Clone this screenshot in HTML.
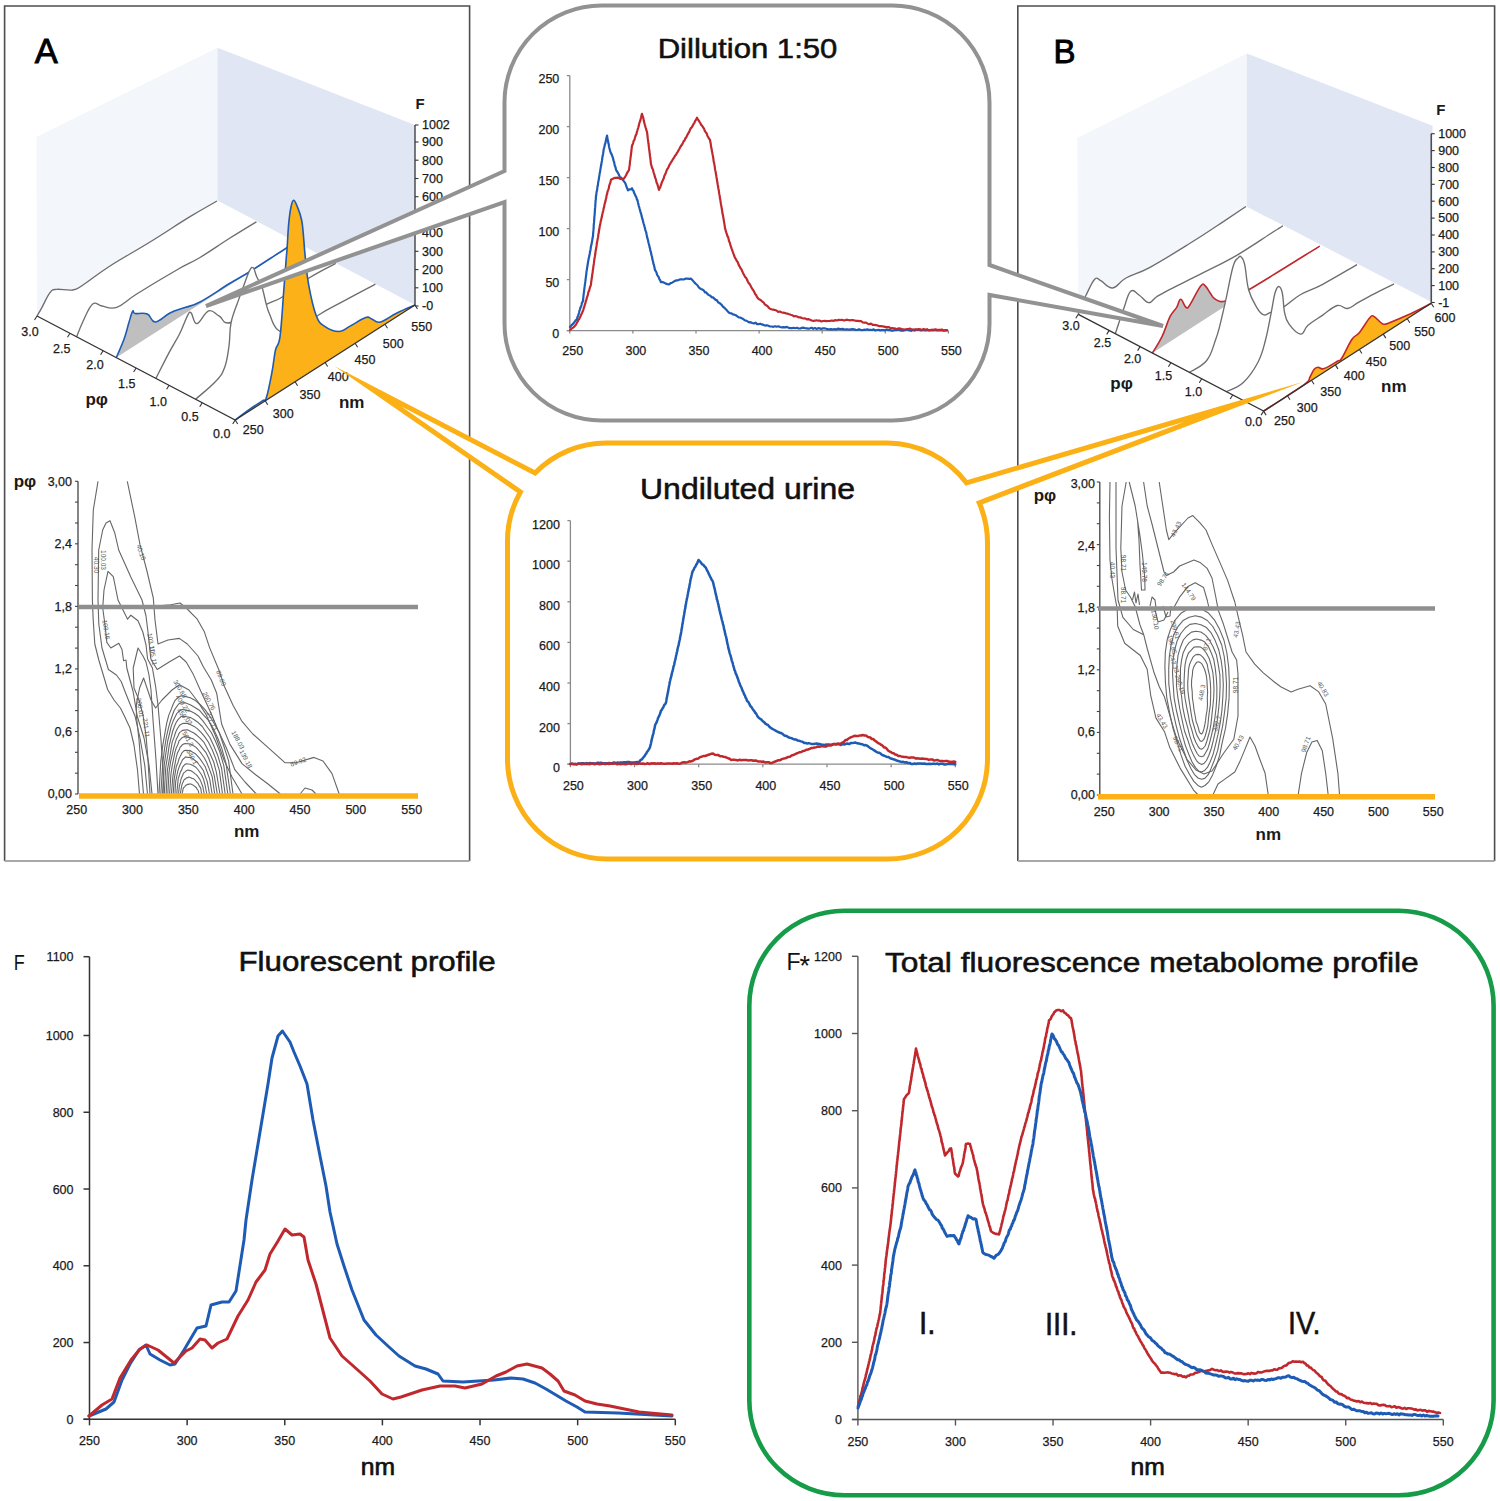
<!DOCTYPE html>
<html><head><meta charset="utf-8"><title>Figure</title>
<style>html,body{margin:0;padding:0;background:#fff;} svg{display:block;} text{font-family:"Liberation Sans", sans-serif;}</style>
</head><body>
<svg width="1500" height="1501" viewBox="0 0 1500 1501">
<rect x="0" y="0" width="1500" height="1501" fill="#fff"/>
<path d="M4.6,861 L4.6,6 L469.6,6 L469.6,861" fill="none" stroke="#4d4d4d" stroke-width="1.6"/>
<line x1="4.6" y1="861" x2="469.6" y2="861" stroke="#a8a8a8" stroke-width="1.8"/>
<path d="M1017.8,861 L1017.8,6 L1494.6,6 L1494.6,861" fill="none" stroke="#4d4d4d" stroke-width="1.6"/>
<line x1="1017.8" y1="861" x2="1494.6" y2="861" stroke="#a8a8a8" stroke-width="1.8"/>
<text x="34.8" y="63.3" font-size="34.5" text-anchor="start" font-weight="normal" fill="#000" stroke="#000" stroke-width="0.9">A</text>
<text x="1053.5" y="63.3" font-size="33" text-anchor="start" font-weight="normal" fill="#000" stroke="#000" stroke-width="0.9">B</text>
<polygon points="36.4,137.0 217.5,47.8 217.5,200.5 37.0,316.0" fill="#f3f6fb"/>
<polygon points="217.5,47.8 415.0,125.0 415.0,305.0 217.5,200.5" fill="#e0e6f3"/>
<path d="M37.0,316.0 C38.0,314.3 39.4,312.0 42.0,307.3 C44.6,302.6 47.1,296.3 50.0,292.7 C52.9,289.1 52.2,289.8 56.7,289.3 C61.2,288.8 67.4,290.9 72.7,290.0 C78.0,289.1 75.8,289.5 83.3,284.7 C90.8,279.9 96.7,274.5 110.0,266.0 C123.3,257.5 134.0,251.9 150.0,242.0 C166.0,232.1 176.6,224.9 190.0,216.7 C203.4,208.5 211.6,204.1 217.0,201.0 L216.8,201.0 L37.0,316.0 Z" fill="#fff" stroke="none"/>
<path d="M37.0,316.0 C38.0,314.3 39.4,312.0 42.0,307.3 C44.6,302.6 47.1,296.3 50.0,292.7 C52.9,289.1 52.2,289.8 56.7,289.3 C61.2,288.8 67.4,290.9 72.7,290.0 C78.0,289.1 75.8,289.5 83.3,284.7 C90.8,279.9 96.7,274.5 110.0,266.0 C123.3,257.5 134.0,251.9 150.0,242.0 C166.0,232.1 176.6,224.9 190.0,216.7 C203.4,208.5 211.6,204.1 217.0,201.0" fill="none" stroke="#6e6e6e" stroke-width="1.35" stroke-linejoin="round"/>
<path d="M76.6,336.8 C77.9,333.6 80.1,327.3 83.3,320.7 C86.5,314.1 89.0,306.9 92.7,304.0 C96.4,301.1 97.2,305.3 102.0,306.0 C106.8,306.7 109.8,309.7 116.7,307.3 C123.6,304.9 124.7,301.5 136.7,294.0 C148.7,286.5 164.0,277.3 176.7,270.0 C189.4,262.7 189.3,263.9 200.0,257.5 C210.7,251.1 218.7,245.1 230.0,238.0 C241.3,230.9 251.1,225.0 256.4,221.8 L256.4,221.8 L76.6,336.8 Z" fill="#fff" stroke="none"/>
<path d="M76.6,336.8 C77.9,333.6 80.1,327.3 83.3,320.7 C86.5,314.1 89.0,306.9 92.7,304.0 C96.4,301.1 97.2,305.3 102.0,306.0 C106.8,306.7 109.8,309.7 116.7,307.3 C123.6,304.9 124.7,301.5 136.7,294.0 C148.7,286.5 164.0,277.3 176.7,270.0 C189.4,262.7 189.3,263.9 200.0,257.5 C210.7,251.1 218.7,245.1 230.0,238.0 C241.3,230.9 251.1,225.0 256.4,221.8" fill="none" stroke="#6e6e6e" stroke-width="1.35" stroke-linejoin="round"/>
<path d="M116.3,357.6 C117.8,353.9 121.5,346.2 124.0,339.3 C126.5,332.4 127.0,328.9 128.7,323.3 C130.4,317.7 131.4,313.3 132.7,311.3 C134.0,309.3 132.1,313.0 135.0,313.5 C137.9,314.0 143.2,312.3 147.3,314.0 C151.4,315.7 150.8,322.2 155.3,322.0 C159.8,321.8 164.1,315.9 170.0,313.0 C175.9,310.1 179.0,309.7 185.0,307.5 C191.0,305.3 191.0,306.8 200.0,302.0 C209.0,297.2 219.7,289.6 230.0,283.3 C240.3,277.0 240.0,277.8 251.3,270.7 C262.6,263.6 277.5,253.6 286.5,248.0 C295.5,242.4 294.2,243.7 296.1,242.6 L296.1,242.6 L116.3,357.6 Z" fill="#bfbfbf" stroke="none"/>
<path d="M116.3,357.6 C117.8,353.9 121.5,346.2 124.0,339.3 C126.5,332.4 127.0,328.9 128.7,323.3 C130.4,317.7 131.4,313.3 132.7,311.3 C134.0,309.3 132.1,313.0 135.0,313.5 C137.9,314.0 143.2,312.3 147.3,314.0 C151.4,315.7 150.8,322.2 155.3,322.0 C159.8,321.8 164.1,315.9 170.0,313.0 C175.9,310.1 179.0,309.7 185.0,307.5 C191.0,305.3 191.0,306.8 200.0,302.0 C209.0,297.2 219.7,289.6 230.0,283.3 C240.3,277.0 240.0,277.8 251.3,270.7 C262.6,263.6 277.5,253.6 286.5,248.0 C295.5,242.4 294.2,243.7 296.1,242.6" fill="none" stroke="#1d5bb4" stroke-width="1.6" stroke-linejoin="round"/>
<path d="M155.9,378.4 C158.6,373.2 164.4,361.4 169.2,352.4 C174.0,343.4 176.3,340.5 179.9,333.2 C183.5,325.9 185.1,320.2 187.3,316.1 C189.5,312.0 189.2,311.4 191.1,312.9 C193.0,314.4 193.4,324.0 196.9,323.6 C200.4,323.2 204.2,312.3 208.7,310.8 C213.2,309.3 214.8,313.8 219.3,316.1 C223.8,318.4 221.7,324.8 231.1,322.5 C240.5,320.2 256.1,309.5 266.3,304.4 C276.5,299.3 273.8,302.3 282.3,297.0 C290.8,291.7 298.3,284.7 309.0,278.0 C319.7,271.3 330.4,266.3 335.7,263.4 L335.7,263.4 L155.9,378.4 Z" fill="#fff" stroke="none"/>
<path d="M155.9,378.4 C158.6,373.2 164.4,361.4 169.2,352.4 C174.0,343.4 176.3,340.5 179.9,333.2 C183.5,325.9 185.1,320.2 187.3,316.1 C189.5,312.0 189.2,311.4 191.1,312.9 C193.0,314.4 193.4,324.0 196.9,323.6 C200.4,323.2 204.2,312.3 208.7,310.8 C213.2,309.3 214.8,313.8 219.3,316.1 C223.8,318.4 221.7,324.8 231.1,322.5 C240.5,320.2 256.1,309.5 266.3,304.4 C276.5,299.3 273.8,302.3 282.3,297.0 C290.8,291.7 298.3,284.7 309.0,278.0 C319.7,271.3 330.4,266.3 335.7,263.4" fill="none" stroke="#6e6e6e" stroke-width="1.35" stroke-linejoin="round"/>
<path d="M195.6,399.2 C199.7,395.6 210.2,387.4 216.0,381.0 C221.8,374.6 222.1,374.3 224.7,367.3 C227.3,360.3 227.7,355.0 229.0,346.0 C230.3,337.0 229.2,331.7 231.1,322.5 C233.0,313.3 235.9,307.6 238.5,300.1 C241.1,292.6 241.7,291.2 243.9,285.2 C246.1,279.2 247.8,273.7 249.7,270.3 C251.6,266.9 252.1,266.8 253.5,268.1 C254.9,269.4 255.0,272.9 256.7,276.7 C258.4,280.5 260.1,281.8 262.0,287.3 C263.9,292.8 264.8,299.1 266.3,304.4 C267.8,309.7 267.2,308.9 269.5,314.0 C271.8,319.1 272.9,326.2 278.0,330.0 C283.1,333.8 286.8,336.1 295.0,333.0 C303.2,329.9 309.0,321.2 319.0,314.7 C329.0,308.2 333.7,306.4 345.0,300.3 C356.3,294.2 369.3,287.4 375.4,284.2 L375.4,284.2 L195.6,399.2 Z" fill="#fff" stroke="none"/>
<path d="M195.6,399.2 C199.7,395.6 210.2,387.4 216.0,381.0 C221.8,374.6 222.1,374.3 224.7,367.3 C227.3,360.3 227.7,355.0 229.0,346.0 C230.3,337.0 229.2,331.7 231.1,322.5 C233.0,313.3 235.9,307.6 238.5,300.1 C241.1,292.6 241.7,291.2 243.9,285.2 C246.1,279.2 247.8,273.7 249.7,270.3 C251.6,266.9 252.1,266.8 253.5,268.1 C254.9,269.4 255.0,272.9 256.7,276.7 C258.4,280.5 260.1,281.8 262.0,287.3 C263.9,292.8 264.8,299.1 266.3,304.4 C267.8,309.7 267.2,308.9 269.5,314.0 C271.8,319.1 272.9,326.2 278.0,330.0 C283.1,333.8 286.8,336.1 295.0,333.0 C303.2,329.9 309.0,321.2 319.0,314.7 C329.0,308.2 333.7,306.4 345.0,300.3 C356.3,294.2 369.3,287.4 375.4,284.2" fill="none" stroke="#6e6e6e" stroke-width="1.35" stroke-linejoin="round"/>
<path d="M235.2,420.0 C237.8,418.1 242.6,414.2 248.0,410.4 C253.4,406.6 258.7,403.4 262.4,400.8 C266.1,398.2 264.5,403.4 266.4,397.6 C268.3,391.8 270.2,381.5 272.0,372.0 C273.8,362.5 273.9,357.1 275.5,350.0 C277.1,342.9 278.4,348.2 280.0,336.7 C281.6,325.2 282.4,308.0 283.6,292.7 C284.8,277.4 285.4,269.2 286.1,260.0 C286.8,250.8 286.7,254.2 287.2,246.7 C287.7,239.2 288.0,230.6 288.8,222.7 C289.6,214.8 290.0,211.5 291.0,207.0 C292.0,202.5 292.3,200.4 293.6,200.3 C294.9,200.2 295.7,202.8 297.3,206.7 C298.9,210.6 300.3,213.6 301.6,220.0 C302.9,226.4 303.0,231.2 303.7,238.7 C304.4,246.2 304.3,248.3 305.3,257.3 C306.3,266.3 306.4,272.4 308.5,283.9 C310.6,295.4 312.7,306.2 315.9,314.7 C319.1,323.2 320.0,323.0 324.7,326.4 C329.4,329.8 334.3,331.5 339.3,331.5 C344.3,331.5 344.3,329.2 349.6,326.4 C354.9,323.6 361.3,319.1 365.7,317.6 C370.1,316.1 368.7,318.1 371.6,319.0 C374.5,319.9 375.4,323.2 380.4,322.0 C385.4,320.8 389.6,316.6 396.5,313.2 C403.4,309.8 411.3,306.6 415.0,305.0 L415.0,305.0 L235.2,420.0 Z" fill="#fbb117" stroke="none"/>
<path d="M235.2,420.0 C237.8,418.1 242.6,414.2 248.0,410.4 C253.4,406.6 258.7,403.4 262.4,400.8 C266.1,398.2 264.5,403.4 266.4,397.6 C268.3,391.8 270.2,381.5 272.0,372.0 C273.8,362.5 273.9,357.1 275.5,350.0 C277.1,342.9 278.4,348.2 280.0,336.7 C281.6,325.2 282.4,308.0 283.6,292.7 C284.8,277.4 285.4,269.2 286.1,260.0 C286.8,250.8 286.7,254.2 287.2,246.7 C287.7,239.2 288.0,230.6 288.8,222.7 C289.6,214.8 290.0,211.5 291.0,207.0 C292.0,202.5 292.3,200.4 293.6,200.3 C294.9,200.2 295.7,202.8 297.3,206.7 C298.9,210.6 300.3,213.6 301.6,220.0 C302.9,226.4 303.0,231.2 303.7,238.7 C304.4,246.2 304.3,248.3 305.3,257.3 C306.3,266.3 306.4,272.4 308.5,283.9 C310.6,295.4 312.7,306.2 315.9,314.7 C319.1,323.2 320.0,323.0 324.7,326.4 C329.4,329.8 334.3,331.5 339.3,331.5 C344.3,331.5 344.3,329.2 349.6,326.4 C354.9,323.6 361.3,319.1 365.7,317.6 C370.1,316.1 368.7,318.1 371.6,319.0 C374.5,319.9 375.4,323.2 380.4,322.0 C385.4,320.8 389.6,316.6 396.5,313.2 C403.4,309.8 411.3,306.6 415.0,305.0" fill="none" stroke="#1d5bb4" stroke-width="1.6" stroke-linejoin="round"/>
<polyline points="37.0,316.0 235.2,420.0 415.0,305.0" fill="none" stroke="#333" stroke-width="1.3"/>
<line x1="235.2" y1="420.0" x2="232.7" y2="424.0" stroke="#333" stroke-width="1.1"/>
<line x1="202.2" y1="402.7" x2="199.7" y2="406.7" stroke="#333" stroke-width="1.1"/>
<line x1="169.1" y1="385.3" x2="166.6" y2="389.3" stroke="#333" stroke-width="1.1"/>
<line x1="136.1" y1="368.0" x2="133.6" y2="372.0" stroke="#333" stroke-width="1.1"/>
<line x1="103.1" y1="350.7" x2="100.6" y2="354.7" stroke="#333" stroke-width="1.1"/>
<line x1="70.0" y1="333.3" x2="67.5" y2="337.3" stroke="#333" stroke-width="1.1"/>
<line x1="37.0" y1="316.0" x2="34.5" y2="320.0" stroke="#333" stroke-width="1.1"/>
<line x1="235.2" y1="420.0" x2="237.7" y2="424.0" stroke="#333" stroke-width="1.1"/>
<line x1="265.2" y1="400.8" x2="267.7" y2="404.8" stroke="#333" stroke-width="1.1"/>
<line x1="295.1" y1="381.7" x2="297.6" y2="385.7" stroke="#333" stroke-width="1.1"/>
<line x1="325.1" y1="362.5" x2="327.6" y2="366.5" stroke="#333" stroke-width="1.1"/>
<line x1="355.1" y1="343.3" x2="357.6" y2="347.3" stroke="#333" stroke-width="1.1"/>
<line x1="385.0" y1="324.2" x2="387.5" y2="328.2" stroke="#333" stroke-width="1.1"/>
<line x1="415.0" y1="305.0" x2="417.5" y2="309.0" stroke="#333" stroke-width="1.1"/>
<line x1="415.0" y1="125" x2="415.0" y2="305" stroke="#333" stroke-width="1.3"/>
<line x1="415.0" y1="306.0" x2="418.5" y2="306.0" stroke="#333" stroke-width="1.1"/>
<text x="422.0" y="310.3" font-size="12.5" text-anchor="start" font-weight="normal" fill="#1a1a1a" stroke="#1a1a1a" stroke-width="0.25">-0</text>
<line x1="415.0" y1="287.8" x2="418.5" y2="287.8" stroke="#333" stroke-width="1.1"/>
<text x="422.0" y="292.08" font-size="12.5" text-anchor="start" font-weight="normal" fill="#1a1a1a" stroke="#1a1a1a" stroke-width="0.25">100</text>
<line x1="415.0" y1="269.6" x2="418.5" y2="269.6" stroke="#333" stroke-width="1.1"/>
<text x="422.0" y="273.86" font-size="12.5" text-anchor="start" font-weight="normal" fill="#1a1a1a" stroke="#1a1a1a" stroke-width="0.25">200</text>
<line x1="415.0" y1="251.3" x2="418.5" y2="251.3" stroke="#333" stroke-width="1.1"/>
<text x="422.0" y="255.64000000000001" font-size="12.5" text-anchor="start" font-weight="normal" fill="#1a1a1a" stroke="#1a1a1a" stroke-width="0.25">300</text>
<line x1="415.0" y1="233.1" x2="418.5" y2="233.1" stroke="#333" stroke-width="1.1"/>
<text x="422.0" y="237.42000000000002" font-size="12.5" text-anchor="start" font-weight="normal" fill="#1a1a1a" stroke="#1a1a1a" stroke-width="0.25">400</text>
<line x1="415.0" y1="214.9" x2="418.5" y2="214.9" stroke="#333" stroke-width="1.1"/>
<text x="422.0" y="219.20000000000002" font-size="12.5" text-anchor="start" font-weight="normal" fill="#1a1a1a" stroke="#1a1a1a" stroke-width="0.25">500</text>
<line x1="415.0" y1="196.7" x2="418.5" y2="196.7" stroke="#333" stroke-width="1.1"/>
<text x="422.0" y="200.98000000000002" font-size="12.5" text-anchor="start" font-weight="normal" fill="#1a1a1a" stroke="#1a1a1a" stroke-width="0.25">600</text>
<line x1="415.0" y1="178.5" x2="418.5" y2="178.5" stroke="#333" stroke-width="1.1"/>
<text x="422.0" y="182.76" font-size="12.5" text-anchor="start" font-weight="normal" fill="#1a1a1a" stroke="#1a1a1a" stroke-width="0.25">700</text>
<line x1="415.0" y1="160.2" x2="418.5" y2="160.2" stroke="#333" stroke-width="1.1"/>
<text x="422.0" y="164.54000000000002" font-size="12.5" text-anchor="start" font-weight="normal" fill="#1a1a1a" stroke="#1a1a1a" stroke-width="0.25">800</text>
<line x1="415.0" y1="142.0" x2="418.5" y2="142.0" stroke="#333" stroke-width="1.1"/>
<text x="422.0" y="146.32000000000002" font-size="12.5" text-anchor="start" font-weight="normal" fill="#1a1a1a" stroke="#1a1a1a" stroke-width="0.25">900</text>
<line x1="415.0" y1="125.0" x2="418.5" y2="125.0" stroke="#333" stroke-width="1.1"/>
<text x="422.0" y="129.3" font-size="12.5" text-anchor="start" font-weight="normal" fill="#1a1a1a" stroke="#1a1a1a" stroke-width="0.25">1002</text>
<text x="253.3" y="434.3" font-size="12.5" text-anchor="middle" font-weight="normal" fill="#1a1a1a" stroke="#1a1a1a" stroke-width="0.25">250</text>
<text x="283.3" y="417.6" font-size="12.5" text-anchor="middle" font-weight="normal" fill="#1a1a1a" stroke="#1a1a1a" stroke-width="0.25">300</text>
<text x="310" y="399.3" font-size="12.5" text-anchor="middle" font-weight="normal" fill="#1a1a1a" stroke="#1a1a1a" stroke-width="0.25">350</text>
<text x="338.3" y="381.0" font-size="12.5" text-anchor="middle" font-weight="normal" fill="#1a1a1a" stroke="#1a1a1a" stroke-width="0.25">400</text>
<text x="365" y="364.3" font-size="12.5" text-anchor="middle" font-weight="normal" fill="#1a1a1a" stroke="#1a1a1a" stroke-width="0.25">450</text>
<text x="393.3" y="347.6" font-size="12.5" text-anchor="middle" font-weight="normal" fill="#1a1a1a" stroke="#1a1a1a" stroke-width="0.25">500</text>
<text x="421.7" y="331.0" font-size="12.5" text-anchor="middle" font-weight="normal" fill="#1a1a1a" stroke="#1a1a1a" stroke-width="0.25">550</text>
<text x="30" y="336.0" font-size="12.5" text-anchor="middle" font-weight="normal" fill="#1a1a1a" stroke="#1a1a1a" stroke-width="0.25">3.0</text>
<text x="61.7" y="352.6" font-size="12.5" text-anchor="middle" font-weight="normal" fill="#1a1a1a" stroke="#1a1a1a" stroke-width="0.25">2.5</text>
<text x="95" y="369.3" font-size="12.5" text-anchor="middle" font-weight="normal" fill="#1a1a1a" stroke="#1a1a1a" stroke-width="0.25">2.0</text>
<text x="126.7" y="387.6" font-size="12.5" text-anchor="middle" font-weight="normal" fill="#1a1a1a" stroke="#1a1a1a" stroke-width="0.25">1.5</text>
<text x="158.3" y="406.0" font-size="12.5" text-anchor="middle" font-weight="normal" fill="#1a1a1a" stroke="#1a1a1a" stroke-width="0.25">1.0</text>
<text x="190" y="421.0" font-size="12.5" text-anchor="middle" font-weight="normal" fill="#1a1a1a" stroke="#1a1a1a" stroke-width="0.25">0.5</text>
<text x="221.7" y="437.6" font-size="12.5" text-anchor="middle" font-weight="normal" fill="#1a1a1a" stroke="#1a1a1a" stroke-width="0.25">0.0</text>
<text x="96.7" y="405" font-size="17" text-anchor="middle" font-weight="bold" fill="#1a1a1a" >pφ</text>
<text x="351.7" y="408" font-size="17" text-anchor="middle" font-weight="bold" fill="#1a1a1a" >nm</text>
<text x="420" y="109" font-size="15" text-anchor="middle" font-weight="bold" fill="#1a1a1a" >F</text>
<polygon points="1077.3,138.0 1246.9,53.5 1246.9,206.7 1078.3,314.3" fill="#f3f6fb"/>
<polygon points="1246.9,53.5 1432.5,125.8 1432.5,302.5 1246.9,206.7" fill="#e0e6f3"/>
<path d="M1078.3,314.3 C1079.0,312.2 1080.5,307.8 1082.0,304.0 C1083.5,300.2 1083.5,300.2 1086.0,295.3 C1088.5,290.4 1091.8,282.2 1094.7,279.3 C1097.6,276.4 1097.1,279.0 1100.7,280.7 C1104.3,282.4 1107.6,288.5 1112.7,288.0 C1117.8,287.5 1118.5,282.1 1126.0,278.0 C1133.5,273.9 1137.2,274.2 1150.0,267.3 C1162.8,260.4 1176.7,251.6 1190.0,243.3 C1203.3,235.0 1205.5,233.4 1216.7,226.0 C1227.9,218.6 1240.1,210.4 1245.9,206.5 L1245.9,206.5 L1078.3,314.3 Z" fill="#fff" stroke="none"/>
<path d="M1078.3,314.3 C1079.0,312.2 1080.5,307.8 1082.0,304.0 C1083.5,300.2 1083.5,300.2 1086.0,295.3 C1088.5,290.4 1091.8,282.2 1094.7,279.3 C1097.6,276.4 1097.1,279.0 1100.7,280.7 C1104.3,282.4 1107.6,288.5 1112.7,288.0 C1117.8,287.5 1118.5,282.1 1126.0,278.0 C1133.5,273.9 1137.2,274.2 1150.0,267.3 C1162.8,260.4 1176.7,251.6 1190.0,243.3 C1203.3,235.0 1205.5,233.4 1216.7,226.0 C1227.9,218.6 1240.1,210.4 1245.9,206.5" fill="none" stroke="#6e6e6e" stroke-width="1.35" stroke-linejoin="round"/>
<path d="M1115.3,333.7 C1116.9,329.0 1120.2,318.5 1123.3,310.0 C1126.4,301.5 1127.5,294.2 1130.7,291.3 C1133.9,288.4 1135.7,293.0 1139.3,295.3 C1142.9,297.6 1145.2,302.4 1148.7,302.7 C1152.2,303.0 1152.4,299.4 1156.7,296.7 C1161.0,294.0 1160.7,294.1 1170.0,289.3 C1179.3,284.5 1190.0,279.5 1203.3,272.7 C1216.6,265.9 1223.4,263.0 1236.7,255.3 C1250.0,247.6 1260.8,239.9 1270.0,234.0 C1279.2,228.1 1280.3,227.5 1282.9,225.9 L1283.0,225.9 L1115.4,333.7 Z" fill="#fff" stroke="none"/>
<path d="M1115.3,333.7 C1116.9,329.0 1120.2,318.5 1123.3,310.0 C1126.4,301.5 1127.5,294.2 1130.7,291.3 C1133.9,288.4 1135.7,293.0 1139.3,295.3 C1142.9,297.6 1145.2,302.4 1148.7,302.7 C1152.2,303.0 1152.4,299.4 1156.7,296.7 C1161.0,294.0 1160.7,294.1 1170.0,289.3 C1179.3,284.5 1190.0,279.5 1203.3,272.7 C1216.6,265.9 1223.4,263.0 1236.7,255.3 C1250.0,247.6 1260.8,239.9 1270.0,234.0 C1279.2,228.1 1280.3,227.5 1282.9,225.9" fill="none" stroke="#6e6e6e" stroke-width="1.35" stroke-linejoin="round"/>
<path d="M1152.4,353.0 C1154.3,349.7 1158.5,344.0 1162.0,336.7 C1165.5,329.4 1167.1,322.6 1170.0,316.7 C1172.9,310.8 1174.6,310.8 1176.7,307.3 C1178.8,303.8 1178.8,299.3 1180.7,299.3 C1182.6,299.3 1184.1,306.2 1186.0,307.3 C1187.9,308.4 1187.1,309.0 1190.0,304.7 C1192.9,300.4 1197.6,289.7 1200.7,286.0 C1203.8,282.3 1203.4,284.7 1205.3,286.0 C1207.2,287.3 1208.0,290.0 1210.0,292.7 C1212.0,295.4 1212.1,297.7 1215.3,299.3 C1218.5,300.9 1219.2,302.7 1226.0,300.7 C1232.8,298.7 1230.6,300.3 1249.3,289.4 C1268.0,278.5 1305.6,254.8 1319.7,246.1 L1320.0,245.2 L1152.4,353.0 Z" fill="#bfbfbf" stroke="none"/>
<path d="M1152.4,353.0 C1154.3,349.7 1158.5,344.0 1162.0,336.7 C1165.5,329.4 1167.1,322.6 1170.0,316.7 C1172.9,310.8 1174.6,310.8 1176.7,307.3 C1178.8,303.8 1178.8,299.3 1180.7,299.3 C1182.6,299.3 1184.1,306.2 1186.0,307.3 C1187.9,308.4 1187.1,309.0 1190.0,304.7 C1192.9,300.4 1197.6,289.7 1200.7,286.0 C1203.8,282.3 1203.4,284.7 1205.3,286.0 C1207.2,287.3 1208.0,290.0 1210.0,292.7 C1212.0,295.4 1212.1,297.7 1215.3,299.3 C1218.5,300.9 1219.2,302.7 1226.0,300.7 C1232.8,298.7 1230.6,300.3 1249.3,289.4 C1268.0,278.5 1305.6,254.8 1319.7,246.1" fill="none" stroke="#c0282d" stroke-width="1.6" stroke-linejoin="round"/>
<path d="M1189.5,372.4 C1192.9,370.0 1201.5,367.0 1206.7,360.5 C1211.9,354.0 1212.9,347.0 1215.5,340.0 C1218.1,333.0 1217.9,333.2 1219.9,325.3 C1221.9,317.4 1223.1,312.1 1225.7,300.4 C1228.3,288.7 1230.5,275.2 1233.0,266.7 C1235.5,258.2 1236.5,259.8 1238.2,257.9 C1239.9,256.0 1240.0,255.7 1241.3,257.1 C1242.6,258.5 1243.2,258.1 1244.7,264.7 C1246.2,271.3 1246.3,281.5 1248.7,290.0 C1251.1,298.5 1253.8,302.4 1256.7,307.3 C1259.6,312.2 1260.6,313.6 1263.3,314.7 C1266.0,315.8 1265.8,314.4 1270.0,312.7 C1274.2,311.0 1278.4,309.9 1284.5,306.3 C1290.6,302.7 1293.1,298.9 1300.7,294.5 C1308.3,290.1 1311.4,290.3 1322.7,284.3 C1334.0,278.3 1350.2,268.5 1357.1,264.6 L1357.1,264.6 L1189.5,372.4 Z" fill="#fff" stroke="none"/>
<path d="M1189.5,372.4 C1192.9,370.0 1201.5,367.0 1206.7,360.5 C1211.9,354.0 1212.9,347.0 1215.5,340.0 C1218.1,333.0 1217.9,333.2 1219.9,325.3 C1221.9,317.4 1223.1,312.1 1225.7,300.4 C1228.3,288.7 1230.5,275.2 1233.0,266.7 C1235.5,258.2 1236.5,259.8 1238.2,257.9 C1239.9,256.0 1240.0,255.7 1241.3,257.1 C1242.6,258.5 1243.2,258.1 1244.7,264.7 C1246.2,271.3 1246.3,281.5 1248.7,290.0 C1251.1,298.5 1253.8,302.4 1256.7,307.3 C1259.6,312.2 1260.6,313.6 1263.3,314.7 C1266.0,315.8 1265.8,314.4 1270.0,312.7 C1274.2,311.0 1278.4,309.9 1284.5,306.3 C1290.6,302.7 1293.1,298.9 1300.7,294.5 C1308.3,290.1 1311.4,290.3 1322.7,284.3 C1334.0,278.3 1350.2,268.5 1357.1,264.6" fill="none" stroke="#6e6e6e" stroke-width="1.35" stroke-linejoin="round"/>
<path d="M1226.5,391.7 C1229.9,389.9 1237.0,388.4 1243.3,382.5 C1249.6,376.6 1253.7,370.5 1258.1,362.0 C1262.5,353.5 1262.9,350.0 1265.5,340.0 C1268.1,330.0 1269.4,321.5 1271.3,312.1 C1273.2,302.7 1273.5,298.1 1275.0,293.0 C1276.5,287.9 1277.2,286.5 1278.7,286.5 C1280.2,286.5 1281.1,287.9 1282.3,293.0 C1283.5,298.1 1283.2,305.9 1284.5,312.1 C1285.8,318.3 1285.7,319.5 1288.9,323.9 C1292.1,328.3 1296.9,333.8 1300.7,334.1 C1304.5,334.4 1303.6,329.1 1308.0,325.3 C1312.4,321.5 1316.8,319.1 1322.7,315.1 C1328.6,311.1 1332.3,306.8 1337.3,305.5 C1342.3,304.2 1343.2,309.2 1347.6,308.5 C1352.0,307.8 1353.1,305.3 1359.3,301.9 C1365.5,298.5 1371.4,295.2 1378.4,291.6 C1385.4,288.0 1391.0,285.4 1394.1,283.9 L1394.1,283.9 L1226.5,391.7 Z" fill="#fff" stroke="none"/>
<path d="M1226.5,391.7 C1229.9,389.9 1237.0,388.4 1243.3,382.5 C1249.6,376.6 1253.7,370.5 1258.1,362.0 C1262.5,353.5 1262.9,350.0 1265.5,340.0 C1268.1,330.0 1269.4,321.5 1271.3,312.1 C1273.2,302.7 1273.5,298.1 1275.0,293.0 C1276.5,287.9 1277.2,286.5 1278.7,286.5 C1280.2,286.5 1281.1,287.9 1282.3,293.0 C1283.5,298.1 1283.2,305.9 1284.5,312.1 C1285.8,318.3 1285.7,319.5 1288.9,323.9 C1292.1,328.3 1296.9,333.8 1300.7,334.1 C1304.5,334.4 1303.6,329.1 1308.0,325.3 C1312.4,321.5 1316.8,319.1 1322.7,315.1 C1328.6,311.1 1332.3,306.8 1337.3,305.5 C1342.3,304.2 1343.2,309.2 1347.6,308.5 C1352.0,307.8 1353.1,305.3 1359.3,301.9 C1365.5,298.5 1371.4,295.2 1378.4,291.6 C1385.4,288.0 1391.0,285.4 1394.1,283.9" fill="none" stroke="#6e6e6e" stroke-width="1.35" stroke-linejoin="round"/>
<path d="M1263.6,411.1 C1267.9,408.3 1276.5,402.9 1285.0,397.3 C1293.5,391.7 1301.0,387.3 1306.0,383.2 C1311.0,379.1 1308.4,379.7 1310.0,377.0 C1311.6,374.3 1312.4,371.4 1314.0,369.5 C1315.6,367.6 1316.0,367.5 1318.0,367.3 C1320.0,367.1 1320.2,369.8 1324.1,368.6 C1328.0,367.4 1333.8,363.4 1337.3,361.3 C1340.8,359.2 1338.8,362.7 1341.7,358.3 C1344.6,353.9 1348.5,344.4 1352.0,339.3 C1355.5,334.2 1355.8,337.0 1359.3,332.7 C1362.8,328.4 1366.7,321.2 1369.6,318.0 C1372.5,314.8 1371.4,315.3 1374.0,316.5 C1376.6,317.7 1379.6,322.7 1382.8,323.9 C1386.0,325.1 1385.1,324.2 1390.1,322.4 C1395.1,320.6 1399.5,318.9 1407.7,315.1 C1415.9,311.3 1426.5,305.7 1431.2,303.3 L1431.2,303.3 L1263.6,411.1 Z" fill="#fbb117" stroke="none"/>
<path d="M1263.6,411.1 C1267.9,408.3 1276.5,402.9 1285.0,397.3 C1293.5,391.7 1301.0,387.3 1306.0,383.2 C1311.0,379.1 1308.4,379.7 1310.0,377.0 C1311.6,374.3 1312.4,371.4 1314.0,369.5 C1315.6,367.6 1316.0,367.5 1318.0,367.3 C1320.0,367.1 1320.2,369.8 1324.1,368.6 C1328.0,367.4 1333.8,363.4 1337.3,361.3 C1340.8,359.2 1338.8,362.7 1341.7,358.3 C1344.6,353.9 1348.5,344.4 1352.0,339.3 C1355.5,334.2 1355.8,337.0 1359.3,332.7 C1362.8,328.4 1366.7,321.2 1369.6,318.0 C1372.5,314.8 1371.4,315.3 1374.0,316.5 C1376.6,317.7 1379.6,322.7 1382.8,323.9 C1386.0,325.1 1385.1,324.2 1390.1,322.4 C1395.1,320.6 1399.5,318.9 1407.7,315.1 C1415.9,311.3 1426.5,305.7 1431.2,303.3" fill="none" stroke="#c0282d" stroke-width="1.6" stroke-linejoin="round"/>
<polyline points="1078.3,314.3 1263.6,411.1 1431.2,303.3" fill="none" stroke="#333" stroke-width="1.3"/>
<line x1="1263.6" y1="411.1" x2="1261.1" y2="415.1" stroke="#333" stroke-width="1.1"/>
<line x1="1232.7" y1="395.0" x2="1230.2" y2="399.0" stroke="#333" stroke-width="1.1"/>
<line x1="1201.8" y1="378.8" x2="1199.3" y2="382.8" stroke="#333" stroke-width="1.1"/>
<line x1="1170.9" y1="362.7" x2="1168.4" y2="366.7" stroke="#333" stroke-width="1.1"/>
<line x1="1140.1" y1="346.6" x2="1137.6" y2="350.6" stroke="#333" stroke-width="1.1"/>
<line x1="1109.2" y1="330.4" x2="1106.7" y2="334.4" stroke="#333" stroke-width="1.1"/>
<line x1="1078.3" y1="314.3" x2="1075.8" y2="318.3" stroke="#333" stroke-width="1.1"/>
<line x1="1263.6" y1="411.1" x2="1266.1" y2="415.1" stroke="#333" stroke-width="1.1"/>
<line x1="1287.5" y1="395.7" x2="1290.0" y2="399.7" stroke="#333" stroke-width="1.1"/>
<line x1="1311.5" y1="380.3" x2="1314.0" y2="384.3" stroke="#333" stroke-width="1.1"/>
<line x1="1335.4" y1="364.9" x2="1337.9" y2="368.9" stroke="#333" stroke-width="1.1"/>
<line x1="1359.4" y1="349.5" x2="1361.9" y2="353.5" stroke="#333" stroke-width="1.1"/>
<line x1="1383.3" y1="334.1" x2="1385.8" y2="338.1" stroke="#333" stroke-width="1.1"/>
<line x1="1407.3" y1="318.7" x2="1409.8" y2="322.7" stroke="#333" stroke-width="1.1"/>
<line x1="1431.2" y1="303.3" x2="1433.7" y2="307.3" stroke="#333" stroke-width="1.1"/>
<line x1="1431.2" y1="133.7" x2="1431.2" y2="302.5" stroke="#333" stroke-width="1.3"/>
<line x1="1431.2" y1="302.5" x2="1434.7" y2="302.5" stroke="#333" stroke-width="1.1"/>
<text x="1438.2" y="306.8" font-size="12.5" text-anchor="start" font-weight="normal" fill="#1a1a1a" stroke="#1a1a1a" stroke-width="0.25">-1</text>
<line x1="1431.2" y1="285.6" x2="1434.7" y2="285.6" stroke="#333" stroke-width="1.1"/>
<text x="1438.2" y="289.92" font-size="12.5" text-anchor="start" font-weight="normal" fill="#1a1a1a" stroke="#1a1a1a" stroke-width="0.25">100</text>
<line x1="1431.2" y1="268.7" x2="1434.7" y2="268.7" stroke="#333" stroke-width="1.1"/>
<text x="1438.2" y="273.04" font-size="12.5" text-anchor="start" font-weight="normal" fill="#1a1a1a" stroke="#1a1a1a" stroke-width="0.25">200</text>
<line x1="1431.2" y1="251.9" x2="1434.7" y2="251.9" stroke="#333" stroke-width="1.1"/>
<text x="1438.2" y="256.16" font-size="12.5" text-anchor="start" font-weight="normal" fill="#1a1a1a" stroke="#1a1a1a" stroke-width="0.25">300</text>
<line x1="1431.2" y1="235.0" x2="1434.7" y2="235.0" stroke="#333" stroke-width="1.1"/>
<text x="1438.2" y="239.28000000000003" font-size="12.5" text-anchor="start" font-weight="normal" fill="#1a1a1a" stroke="#1a1a1a" stroke-width="0.25">400</text>
<line x1="1431.2" y1="218.1" x2="1434.7" y2="218.1" stroke="#333" stroke-width="1.1"/>
<text x="1438.2" y="222.4" font-size="12.5" text-anchor="start" font-weight="normal" fill="#1a1a1a" stroke="#1a1a1a" stroke-width="0.25">500</text>
<line x1="1431.2" y1="201.2" x2="1434.7" y2="201.2" stroke="#333" stroke-width="1.1"/>
<text x="1438.2" y="205.52" font-size="12.5" text-anchor="start" font-weight="normal" fill="#1a1a1a" stroke="#1a1a1a" stroke-width="0.25">600</text>
<line x1="1431.2" y1="184.3" x2="1434.7" y2="184.3" stroke="#333" stroke-width="1.1"/>
<text x="1438.2" y="188.64" font-size="12.5" text-anchor="start" font-weight="normal" fill="#1a1a1a" stroke="#1a1a1a" stroke-width="0.25">700</text>
<line x1="1431.2" y1="167.5" x2="1434.7" y2="167.5" stroke="#333" stroke-width="1.1"/>
<text x="1438.2" y="171.76000000000002" font-size="12.5" text-anchor="start" font-weight="normal" fill="#1a1a1a" stroke="#1a1a1a" stroke-width="0.25">800</text>
<line x1="1431.2" y1="150.6" x2="1434.7" y2="150.6" stroke="#333" stroke-width="1.1"/>
<text x="1438.2" y="154.88" font-size="12.5" text-anchor="start" font-weight="normal" fill="#1a1a1a" stroke="#1a1a1a" stroke-width="0.25">900</text>
<line x1="1431.2" y1="133.7" x2="1434.7" y2="133.7" stroke="#333" stroke-width="1.1"/>
<text x="1438.2" y="138.0" font-size="12.5" text-anchor="start" font-weight="normal" fill="#1a1a1a" stroke="#1a1a1a" stroke-width="0.25">1000</text>
<text x="1284.5" y="425.0" font-size="12.5" text-anchor="middle" font-weight="normal" fill="#1a1a1a" stroke="#1a1a1a" stroke-width="0.25">250</text>
<text x="1307.3" y="411.8" font-size="12.5" text-anchor="middle" font-weight="normal" fill="#1a1a1a" stroke="#1a1a1a" stroke-width="0.25">300</text>
<text x="1330.7" y="396.3" font-size="12.5" text-anchor="middle" font-weight="normal" fill="#1a1a1a" stroke="#1a1a1a" stroke-width="0.25">350</text>
<text x="1354.3" y="379.6" font-size="12.5" text-anchor="middle" font-weight="normal" fill="#1a1a1a" stroke="#1a1a1a" stroke-width="0.25">400</text>
<text x="1376.2" y="365.6" font-size="12.5" text-anchor="middle" font-weight="normal" fill="#1a1a1a" stroke="#1a1a1a" stroke-width="0.25">450</text>
<text x="1399.7" y="350.2" font-size="12.5" text-anchor="middle" font-weight="normal" fill="#1a1a1a" stroke="#1a1a1a" stroke-width="0.25">500</text>
<text x="1424.6" y="335.5" font-size="12.5" text-anchor="middle" font-weight="normal" fill="#1a1a1a" stroke="#1a1a1a" stroke-width="0.25">550</text>
<text x="1445" y="321.8" font-size="12.5" text-anchor="middle" font-weight="normal" fill="#1a1a1a" stroke="#1a1a1a" stroke-width="0.25">600</text>
<text x="1071" y="330.3" font-size="12.5" text-anchor="middle" font-weight="normal" fill="#1a1a1a" stroke="#1a1a1a" stroke-width="0.25">3.0</text>
<text x="1102.5" y="347.3" font-size="12.5" text-anchor="middle" font-weight="normal" fill="#1a1a1a" stroke="#1a1a1a" stroke-width="0.25">2.5</text>
<text x="1132.6" y="363.3" font-size="12.5" text-anchor="middle" font-weight="normal" fill="#1a1a1a" stroke="#1a1a1a" stroke-width="0.25">2.0</text>
<text x="1163.4" y="379.6" font-size="12.5" text-anchor="middle" font-weight="normal" fill="#1a1a1a" stroke="#1a1a1a" stroke-width="0.25">1.5</text>
<text x="1193.5" y="396.3" font-size="12.5" text-anchor="middle" font-weight="normal" fill="#1a1a1a" stroke="#1a1a1a" stroke-width="0.25">1.0</text>
<text x="1253.6" y="426.3" font-size="12.5" text-anchor="middle" font-weight="normal" fill="#1a1a1a" stroke="#1a1a1a" stroke-width="0.25">0.0</text>
<text x="1121.6" y="389" font-size="17" text-anchor="middle" font-weight="bold" fill="#1a1a1a" >pφ</text>
<text x="1393.8" y="392" font-size="17" text-anchor="middle" font-weight="bold" fill="#1a1a1a" >nm</text>
<text x="1440.8" y="115" font-size="15" text-anchor="middle" font-weight="bold" fill="#1a1a1a" >F</text>
<polyline points="98.0,481.3 93.3,510.0 92.0,550.0 92.4,600.0 93.2,620.0 94.8,644.0 98.8,660.0 103.6,676.0 107.6,689.5 114.0,700.0 120.4,708.0 124.4,716.0 130.0,728.0 134.0,745.0 137.5,770.0 139.5,794.0" fill="none" stroke="#666666" stroke-width="1.1" stroke-linejoin="round"/>
<polyline points="147.5,794.0 144.7,765.0 140.0,738.0 135.0,716.0 130.0,704.0 125.2,692.0 121.2,681.5 116.4,675.0 108.4,669.5 102.0,648.0 98.8,624.0 98.0,600.0 98.7,550.0 102.7,530.0 106.0,523.0 110.0,520.7 114.7,532.7 118.7,550.0 130.7,576.7 142.0,600.0 146.0,616.0 148.0,632.0 150.8,659.0 157.2,669.5 170.0,661.5 179.5,656.0 186.2,662.0 193.4,674.6 200.6,690.8 209.6,710.0 218.0,730.0 226.4,748.0 234.8,769.6 245.0,782.0 256.4,794.0" fill="none" stroke="#666666" stroke-width="1.1" stroke-linejoin="round"/>
<polyline points="152.0,794.0 149.0,765.0 144.0,738.0 137.2,716.0 133.2,692.0 130.0,680.0 126.8,668.0 126.0,660.0 123.6,660.8 122.0,649.6 118.8,643.2 110.8,648.0 106.8,642.4 105.2,626.4 102.7,608.0 104.0,590.0 108.0,571.3 113.3,576.7 118.0,600.0 122.0,608.0 127.6,619.2 130.8,615.2 138.0,620.8 142.8,632.0 146.0,644.8 147.6,659.0 152.4,668.0 155.6,686.3 158.0,705.0 161.0,740.0 163.0,770.0 164.0,794.0" fill="none" stroke="#666666" stroke-width="1.1" stroke-linejoin="round"/>
<polyline points="127.3,481.3 134.7,516.7 140.0,544.7 146.7,570.0 153.3,598.0 155.0,620.0 158.0,644.0 168.0,640.0 179.3,638.4 187.3,644.0 198.0,656.0 203.3,666.7 211.3,680.0 216.7,693.3 221.6,724.0 230.0,744.4 242.0,763.6 256.0,775.0 268.0,784.0 280.4,794.0" fill="none" stroke="#666666" stroke-width="1.1" stroke-linejoin="round"/>
<polyline points="156.0,606.0 170.7,604.7 180.0,603.0 186.2,608.0 197.0,618.8 204.2,631.4 209.6,647.6 218.6,669.2 224.0,685.4 233.0,705.2 242.0,721.4 252.8,734.0 269.0,748.4 285.2,762.8 296.0,762.8 314.0,757.4 323.0,761.0 332.0,773.6 339.2,794.0" fill="none" stroke="#666666" stroke-width="1.1" stroke-linejoin="round"/>
<polyline points="300.0,794.0 305.0,788.0 312.0,790.0 316.0,794.0" fill="none" stroke="#666666" stroke-width="1.1" stroke-linejoin="round"/>
<polyline points="150.0,794.0 148.0,760.0 146.0,735.0 143.0,715.0 139.0,700.0 134.0,688.0 133.2,668.0 138.0,648.0 143.0,656.0 146.0,662.0 149.0,675.0 151.0,690.0 153.0,720.0 156.0,760.0 158.0,794.0" fill="none" stroke="#666666" stroke-width="1.1" stroke-linejoin="round"/>
<polyline points="143.5,794.0 141.0,765.0 139.0,740.0 136.4,716.0 136.4,704.0 139.6,688.0 143.6,678.0 147.0,688.0 151.0,700.0 155.6,708.0 162.0,700.0 172.0,690.0 179.5,684.7 189.0,690.0 197.4,701.0 206.0,714.4 215.6,736.0 224.0,760.0 232.0,777.0 242.0,794.0" fill="none" stroke="#666666" stroke-width="1.1" stroke-linejoin="round"/>
<text x="94" y="565" font-size="6.5" fill="#555" text-anchor="middle" transform="rotate(90 94 565)">40.30</text>
<text x="100.5" y="560" font-size="6.5" fill="#555" text-anchor="middle" transform="rotate(90 100.5 560)">100.03</text>
<text x="139" y="553" font-size="6.5" fill="#555" text-anchor="middle" transform="rotate(72 139 553)">40.10</text>
<text x="104" y="630" font-size="6.5" fill="#555" text-anchor="middle" transform="rotate(80 104 630)">103.16</text>
<text x="149" y="643" font-size="6.5" fill="#555" text-anchor="middle" transform="rotate(80 149 643)">103.11</text>
<text x="151" y="656" font-size="6.5" fill="#555" text-anchor="middle" transform="rotate(80 151 656)">105.11</text>
<text x="219" y="679" font-size="6.5" fill="#555" text-anchor="middle" transform="rotate(68 219 679)">89.80</text>
<text x="236" y="741" font-size="6.5" fill="#555" text-anchor="middle" transform="rotate(62 236 741)">188.03</text>
<text x="244" y="760" font-size="6.5" fill="#555" text-anchor="middle" transform="rotate(62 244 760)">139.18</text>
<text x="299" y="764" font-size="6.5" fill="#555" text-anchor="middle" transform="rotate(-20 299 764)">89.92</text>
<text x="138" y="708" font-size="6.5" fill="#555" text-anchor="middle" transform="rotate(80 138 708)">200.01</text>
<text x="144" y="728" font-size="6.5" fill="#555" text-anchor="middle" transform="rotate(82 144 728)">221.11</text>
<text x="178" y="690" font-size="6.5" fill="#555" text-anchor="middle" transform="rotate(60 178 690)">300.88</text>
<text x="181" y="705" font-size="6.5" fill="#555" text-anchor="middle" transform="rotate(55 181 705)">400.22</text>
<text x="183" y="718" font-size="6.5" fill="#555" text-anchor="middle" transform="rotate(50 183 718)">450.03</text>
<text x="207" y="702" font-size="6.5" fill="#555" text-anchor="middle" transform="rotate(62 207 702)">260.76</text>
<text x="210" y="722" font-size="6.5" fill="#555" text-anchor="middle" transform="rotate(70 210 722)">277.71</text>
<text x="186" y="740" font-size="6.5" fill="#555" text-anchor="middle" transform="rotate(60 186 740)">561.3</text>
<text x="190" y="758" font-size="6.5" fill="#555" text-anchor="middle" transform="rotate(60 190 758)">640.1</text>
<polyline points="159.0,794.0 160.8,760.9 162.9,744.7 165.1,732.2 166.7,723.2 168.8,715.1 171.3,709.1 173.2,704.2 175.1,700.3 177.1,698.3 179.0,696.7 181.1,695.7 185.9,696.6 190.3,697.7 195.4,700.6 200.1,704.5 204.8,709.4 209.3,715.5 214.1,723.3 219.1,732.3 223.3,744.5 228.6,760.9 233.0,794.0" fill="none" stroke="#666666" stroke-width="1.1" stroke-linejoin="round"/>
<polyline points="160.8,794.0 162.8,763.1 164.6,748.0 166.4,736.9 168.4,728.2 170.4,721.0 172.4,715.3 174.2,710.2 176.2,707.4 178.1,704.7 179.9,703.0 181.8,702.8 185.9,702.9 190.7,705.0 194.6,707.2 199.3,710.2 203.6,715.2 208.5,720.4 212.7,727.6 217.2,736.7 221.8,748.4 226.0,763.5 230.4,794.0" fill="none" stroke="#666666" stroke-width="1.1" stroke-linejoin="round"/>
<polyline points="162.5,794.0 164.2,765.2 166.2,751.2 167.7,741.0 169.8,732.5 171.2,726.4 173.1,721.1 175.3,716.6 176.8,713.5 178.8,711.3 180.5,710.1 182.5,709.5 186.3,710.1 190.3,711.1 195.0,713.5 198.8,716.3 202.9,720.9 206.7,726.2 211.3,732.5 215.4,741.0 219.6,751.4 223.8,765.6 227.8,794.0" fill="none" stroke="#666666" stroke-width="1.1" stroke-linejoin="round"/>
<polyline points="164.3,794.0 165.7,767.5 167.8,755.2 169.2,745.3 171.1,737.6 172.6,731.5 174.3,726.8 176.0,722.8 178.0,719.6 179.5,718.1 181.0,716.5 183.1,716.1 186.5,716.7 190.7,717.6 194.3,719.8 198.5,722.8 202.3,726.5 205.8,731.7 210.0,737.7 213.4,745.0 217.5,754.7 221.5,768.0 225.2,794.0" fill="none" stroke="#666666" stroke-width="1.1" stroke-linejoin="round"/>
<polyline points="166.1,794.0 167.4,769.9 169.5,758.4 171.0,749.4 172.1,742.4 174.2,736.9 175.5,732.5 177.1,729.0 179.0,726.2 180.0,724.9 182.1,723.8 183.4,723.4 187.3,723.2 190.7,724.8 194.2,726.4 197.5,728.9 201.0,732.3 204.8,736.9 208.5,742.3 212.2,749.7 215.7,758.6 219.3,770.1 222.5,794.0" fill="none" stroke="#666666" stroke-width="1.1" stroke-linejoin="round"/>
<polyline points="167.8,794.0 169.0,772.5 170.6,761.6 172.4,753.8 173.7,747.8 175.3,742.4 176.5,738.7 178.2,735.4 179.5,732.6 181.2,731.4 182.4,730.4 184.4,730.1 187.6,729.8 190.7,731.4 193.5,732.7 196.9,735.3 200.3,738.4 203.8,742.1 206.6,747.2 209.9,753.5 213.7,762.0 216.4,772.3 219.9,794.0" fill="none" stroke="#666666" stroke-width="1.1" stroke-linejoin="round"/>
<polyline points="169.6,794.0 170.9,774.5 172.3,765.2 173.8,757.9 174.9,752.3 176.2,747.9 178.0,744.2 178.9,741.2 180.5,739.4 182.1,737.7 183.5,737.0 184.6,736.5 187.7,737.1 190.6,737.9 193.6,739.1 196.6,741.6 199.2,744.2 202.4,748.2 205.8,752.3 208.7,758.2 211.2,765.1 214.1,774.8 217.3,794.0" fill="none" stroke="#666666" stroke-width="1.1" stroke-linejoin="round"/>
<polyline points="171.4,794.0 172.8,777.2 174.1,768.6 175.3,762.3 176.2,757.4 177.4,753.1 179.2,749.8 180.0,747.4 181.8,745.5 182.4,744.7 183.8,743.9 185.4,743.6 188.3,743.7 190.9,744.1 193.5,745.8 196.1,747.4 198.8,750.5 201.0,753.2 204.1,757.5 206.5,762.0 209.2,768.6 212.2,776.8 214.7,794.0" fill="none" stroke="#666666" stroke-width="1.1" stroke-linejoin="round"/>
<polyline points="173.2,794.0 174.2,779.1 175.4,771.9 176.3,766.5 178.1,762.2 179.1,758.5 180.3,756.2 181.4,753.9 182.4,752.3 183.9,750.8 184.5,750.6 186.2,750.2 188.3,750.5 190.5,750.9 192.8,752.3 195.3,753.7 197.9,756.3 200.0,758.9 202.5,762.5 205.0,766.3 207.1,771.6 209.7,779.1 212.1,794.0" fill="none" stroke="#666666" stroke-width="1.1" stroke-linejoin="round"/>
<polyline points="174.9,794.0 175.7,781.4 176.9,775.5 177.8,771.1 179.1,767.2 180.2,764.4 181.5,761.9 182.3,760.2 183.6,758.6 184.6,758.0 185.5,756.9 186.4,757.1 188.7,757.4 191.0,757.5 192.6,758.5 194.7,760.2 197.2,762.2 198.9,764.5 201.0,767.1 203.4,770.5 205.0,775.6 207.2,781.4 209.5,794.0" fill="none" stroke="#666666" stroke-width="1.1" stroke-linejoin="round"/>
<polyline points="176.7,794.0 177.7,783.9 178.2,778.6 179.5,775.0 180.3,772.1 181.8,769.6 182.4,767.5 183.2,766.4 184.0,765.4 185.5,764.0 186.5,763.8 187.3,763.9 188.8,764.0 190.8,764.5 192.4,765.3 194.6,766.4 196.1,767.5 197.9,769.5 199.8,772.2 201.5,774.8 203.4,778.8 204.8,784.0 206.8,794.0" fill="none" stroke="#666666" stroke-width="1.1" stroke-linejoin="round"/>
<polyline points="178.5,794.0 179.4,785.8 180.5,781.9 180.9,779.4 181.9,777.0 182.8,775.1 183.4,773.4 184.1,772.6 185.4,771.6 186.2,770.8 186.8,770.5 188.0,770.1 189.3,770.4 191.0,770.8 192.1,771.5 193.8,772.6 195.1,773.9 196.5,774.9 198.0,776.7 199.9,779.4 201.0,781.9 202.7,786.2 204.2,794.0" fill="none" stroke="#666666" stroke-width="1.1" stroke-linejoin="round"/>
<polyline points="180.2,794.0 181.2,788.5 181.8,785.3 182.4,783.3 183.2,781.9 183.7,780.4 184.9,779.1 185.6,778.9 186.5,777.9 186.9,777.6 187.7,777.7 188.5,777.1 189.8,777.3 190.9,777.7 191.6,778.2 193.3,778.6 194.4,779.4 195.4,780.5 196.5,781.8 198.1,783.4 199.3,785.9 200.7,788.1 201.6,794.0" fill="none" stroke="#666666" stroke-width="1.1" stroke-linejoin="round"/>
<polyline points="182.0,794.0 182.8,790.7 183.0,788.9 183.7,787.4 184.6,787.1 185.1,786.2 186.0,785.1 186.7,784.9 187.4,784.6 187.9,784.1 188.6,784.4 189.3,784.0 190.1,784.0 190.5,783.9 191.4,784.3 192.4,784.8 193.7,785.4 194.4,786.1 195.2,786.7 196.5,787.7 197.0,789.2 198.2,790.5 199.0,794.0" fill="none" stroke="#666666" stroke-width="1.1" stroke-linejoin="round"/>
<line x1="78" y1="481.3" x2="78" y2="794" stroke="#444" stroke-width="1.3"/>
<line x1="75" y1="481.3" x2="78" y2="481.3" stroke="#444" stroke-width="1.1"/>
<line x1="75" y1="502.1" x2="78" y2="502.1" stroke="#444" stroke-width="1.1"/>
<line x1="75" y1="523.0" x2="78" y2="523.0" stroke="#444" stroke-width="1.1"/>
<line x1="75" y1="543.8" x2="78" y2="543.8" stroke="#444" stroke-width="1.1"/>
<line x1="75" y1="564.7" x2="78" y2="564.7" stroke="#444" stroke-width="1.1"/>
<line x1="75" y1="585.5" x2="78" y2="585.5" stroke="#444" stroke-width="1.1"/>
<line x1="75" y1="606.4" x2="78" y2="606.4" stroke="#444" stroke-width="1.1"/>
<line x1="75" y1="627.2" x2="78" y2="627.2" stroke="#444" stroke-width="1.1"/>
<line x1="75" y1="648.1" x2="78" y2="648.1" stroke="#444" stroke-width="1.1"/>
<line x1="75" y1="668.9" x2="78" y2="668.9" stroke="#444" stroke-width="1.1"/>
<line x1="75" y1="689.8" x2="78" y2="689.8" stroke="#444" stroke-width="1.1"/>
<line x1="75" y1="710.6" x2="78" y2="710.6" stroke="#444" stroke-width="1.1"/>
<line x1="75" y1="731.5" x2="78" y2="731.5" stroke="#444" stroke-width="1.1"/>
<line x1="75" y1="752.3" x2="78" y2="752.3" stroke="#444" stroke-width="1.1"/>
<line x1="75" y1="773.2" x2="78" y2="773.2" stroke="#444" stroke-width="1.1"/>
<line x1="75" y1="794.0" x2="78" y2="794.0" stroke="#444" stroke-width="1.1"/>
<text x="72" y="485.6" font-size="12.5" text-anchor="end" font-weight="normal" fill="#1a1a1a" stroke="#1a1a1a" stroke-width="0.25">3,00</text>
<text x="72" y="548.0999999999999" font-size="12.5" text-anchor="end" font-weight="normal" fill="#1a1a1a" stroke="#1a1a1a" stroke-width="0.25">2,4</text>
<text x="72" y="611.3" font-size="12.5" text-anchor="end" font-weight="normal" fill="#1a1a1a" stroke="#1a1a1a" stroke-width="0.25">1,8</text>
<text x="72" y="673.0999999999999" font-size="12.5" text-anchor="end" font-weight="normal" fill="#1a1a1a" stroke="#1a1a1a" stroke-width="0.25">1,2</text>
<text x="72" y="735.8" font-size="12.5" text-anchor="end" font-weight="normal" fill="#1a1a1a" stroke="#1a1a1a" stroke-width="0.25">0,6</text>
<text x="72" y="798.3" font-size="12.5" text-anchor="end" font-weight="normal" fill="#1a1a1a" stroke="#1a1a1a" stroke-width="0.25">0,00</text>
<line x1="79" y1="607" x2="418" y2="607" stroke="#8f8f8f" stroke-width="4.5"/>
<line x1="79" y1="796" x2="418" y2="796" stroke="#fbb117" stroke-width="5.5"/>
<text x="76.7" y="814.3" font-size="12.5" text-anchor="middle" font-weight="normal" fill="#1a1a1a" stroke="#1a1a1a" stroke-width="0.25">250</text>
<text x="132.53" y="814.3" font-size="12.5" text-anchor="middle" font-weight="normal" fill="#1a1a1a" stroke="#1a1a1a" stroke-width="0.25">300</text>
<text x="188.36" y="814.3" font-size="12.5" text-anchor="middle" font-weight="normal" fill="#1a1a1a" stroke="#1a1a1a" stroke-width="0.25">350</text>
<text x="244.19" y="814.3" font-size="12.5" text-anchor="middle" font-weight="normal" fill="#1a1a1a" stroke="#1a1a1a" stroke-width="0.25">400</text>
<text x="300.02" y="814.3" font-size="12.5" text-anchor="middle" font-weight="normal" fill="#1a1a1a" stroke="#1a1a1a" stroke-width="0.25">450</text>
<text x="355.84999999999997" y="814.3" font-size="12.5" text-anchor="middle" font-weight="normal" fill="#1a1a1a" stroke="#1a1a1a" stroke-width="0.25">500</text>
<text x="411.68" y="814.3" font-size="12.5" text-anchor="middle" font-weight="normal" fill="#1a1a1a" stroke="#1a1a1a" stroke-width="0.25">550</text>
<text x="25" y="487" font-size="17" text-anchor="middle" font-weight="bold" fill="#1a1a1a" >pφ</text>
<text x="246.7" y="836.8" font-size="17" text-anchor="middle" font-weight="bold" fill="#1a1a1a" >nm</text>
<polyline points="1110.0,482.0 1109.4,518.0 1110.0,560.0 1111.8,578.0 1114.8,596.0 1117.2,609.0 1117.7,626.0 1124.7,643.3 1140.3,655.5 1147.2,669.3 1150.7,695.3 1155.9,717.9 1164.5,731.7 1169.7,747.3 1180.1,768.1 1194.0,790.7 1199.2,796.0" fill="none" stroke="#666666" stroke-width="1.1" stroke-linejoin="round"/>
<polyline points="1116.0,482.0 1116.0,548.0 1118.0,600.0 1122.9,617.3 1133.3,629.5 1143.7,634.7 1147.2,648.5 1154.1,672.8 1159.3,686.7 1164.5,697.1 1171.5,721.3 1176.7,738.7 1187.1,759.5 1196.0,770.0 1204.0,774.0 1212.0,771.0 1223.6,753.3 1233.8,739.3 1238.0,716.0 1238.0,674.0 1236.6,660.0 1232.1,652.0 1223.5,624.3 1218.3,610.4 1215.6,596.0 1212.0,578.0 1207.2,568.4 1200.0,562.4 1194.0,560.0 1179.6,566.0 1173.6,572.0 1166.4,575.6 1164.0,572.0 1158.0,548.0 1152.0,524.0 1147.2,506.0 1143.6,482.0" fill="none" stroke="#666666" stroke-width="1.1" stroke-linejoin="round"/>
<polyline points="1126.2,482.0 1122.0,506.0 1120.8,548.0 1122.0,572.0 1125.6,590.0 1130.4,597.0 1135.2,606.8 1140.0,625.0 1143.7,634.7" fill="none" stroke="#666666" stroke-width="1.1" stroke-linejoin="round"/>
<polyline points="1129.2,482.0 1135.2,506.0 1140.0,536.0 1142.4,554.0 1144.8,578.0 1145.0,590.0 1141.5,590.0 1140.0,565.0 1139.0,540.0 1137.5,520.0" fill="none" stroke="#666666" stroke-width="1.1" stroke-linejoin="round"/>
<polyline points="1159.2,482.0 1162.8,506.0 1166.4,530.0 1168.8,539.6 1173.6,533.6 1188.0,518.0 1192.8,515.6 1200.0,522.8 1206.0,530.0 1212.0,544.4 1220.4,563.6 1227.6,580.4 1234.8,602.0 1238.4,617.6 1242.5,634.7 1246.0,652.0 1254.7,664.1 1263.3,672.8 1273.7,681.5 1280.7,686.7 1291.1,691.9 1298.0,689.3 1310.1,685.8 1318.8,691.9 1325.7,704.0 1332.7,738.7 1337.9,773.3 1339.6,796.0" fill="none" stroke="#666666" stroke-width="1.1" stroke-linejoin="round"/>
<polyline points="1212.4,796.0 1218.0,784.0 1224.5,779.4 1234.8,772.0 1239.4,762.6 1244.1,751.4 1250.0,737.0 1255.0,746.0 1259.9,759.5 1265.1,773.3 1268.4,796.0" fill="none" stroke="#666666" stroke-width="1.1" stroke-linejoin="round"/>
<polyline points="1298.0,796.0 1301.5,773.3 1306.7,752.5 1311.9,742.1 1317.2,740.4 1322.3,750.8 1325.7,773.3 1328.3,796.0" fill="none" stroke="#666666" stroke-width="1.1" stroke-linejoin="round"/>
<polyline points="1132.5,600.0 1134.5,592.0 1136.0,603.0 1138.0,594.0 1139.5,605.0" fill="none" stroke="#666666" stroke-width="1.1" stroke-linejoin="round"/>
<polyline points="1150.0,606.0 1152.0,597.0 1155.0,600.0 1156.0,608.0" fill="none" stroke="#666666" stroke-width="1.1" stroke-linejoin="round"/>
<polyline points="1163.0,606.0 1166.0,617.0 1170.0,616.0 1171.0,606.0" fill="none" stroke="#666666" stroke-width="1.1" stroke-linejoin="round"/>
<polyline points="1155.0,610.0 1158.0,622.0 1164.0,620.0 1168.0,612.0" fill="none" stroke="#666666" stroke-width="1.1" stroke-linejoin="round"/>
<polyline points="1173.6,608.0 1179.6,597.2 1188.0,586.4 1195.2,582.8 1203.6,587.6 1207.2,600.0 1209.0,608.0" fill="none" stroke="#666666" stroke-width="1.1" stroke-linejoin="round"/>
<text x="1110" y="570" font-size="6.5" fill="#555" text-anchor="middle" transform="rotate(90 1110 570)">40.43</text>
<text x="1120.5" y="563" font-size="6.5" fill="#555" text-anchor="middle" transform="rotate(90 1120.5 563)">98.71</text>
<text x="1142" y="572" font-size="6.5" fill="#555" text-anchor="middle" transform="rotate(90 1142 572)">149.78</text>
<text x="1121" y="595" font-size="6.5" fill="#555" text-anchor="middle" transform="rotate(90 1121 595)">98.71</text>
<text x="1178" y="530" font-size="6.5" fill="#555" text-anchor="middle" transform="rotate(-65 1178 530)">43.43</text>
<text x="1165" y="580" font-size="6.5" fill="#555" text-anchor="middle" transform="rotate(-55 1165 580)">98.71</text>
<text x="1187" y="593" font-size="6.5" fill="#555" text-anchor="middle" transform="rotate(55 1187 593)">144.79</text>
<text x="1153" y="620" font-size="6.5" fill="#555" text-anchor="middle" transform="rotate(80 1153 620)">130.10</text>
<text x="1173" y="630" font-size="6.5" fill="#555" text-anchor="middle" transform="rotate(75 1173 630)">299.61</text>
<text x="1170" y="645" font-size="6.5" fill="#555" text-anchor="middle" transform="rotate(75 1170 645)">196.85</text>
<text x="1172" y="664" font-size="6.5" fill="#555" text-anchor="middle" transform="rotate(72 1172 664)">243.33</text>
<text x="1178" y="685" font-size="6.5" fill="#555" text-anchor="middle" transform="rotate(72 1178 685)">290.19</text>
<text x="1209" y="645" font-size="6.5" fill="#555" text-anchor="middle" transform="rotate(-70 1209 645)">87.1</text>
<text x="1204" y="693" font-size="6.5" fill="#555" text-anchor="middle" transform="rotate(-80 1204 693)">448.3</text>
<text x="1219" y="724" font-size="6.5" fill="#555" text-anchor="middle" transform="rotate(-75 1219 724)">332.7</text>
<text x="1238" y="685" font-size="6.5" fill="#555" text-anchor="middle" transform="rotate(-90 1238 685)">98.71</text>
<text x="1240" y="744" font-size="6.5" fill="#555" text-anchor="middle" transform="rotate(-60 1240 744)">40.43</text>
<text x="1239" y="630" font-size="6.5" fill="#555" text-anchor="middle" transform="rotate(-80 1239 630)">43.43</text>
<text x="1308" y="745" font-size="6.5" fill="#555" text-anchor="middle" transform="rotate(-70 1308 745)">98.71</text>
<text x="1321" y="690" font-size="6.5" fill="#555" text-anchor="middle" transform="rotate(60 1321 690)">40.83</text>
<text x="1160" y="722" font-size="6.5" fill="#555" text-anchor="middle" transform="rotate(60 1160 722)">43.43</text>
<text x="1176" y="745" font-size="6.5" fill="#555" text-anchor="middle" transform="rotate(65 1176 745)">98.71</text>
<polyline points="1229.1,697.6 1227.7,713.3 1225.5,728.4 1222.3,742.2 1219.7,755.1 1216.3,765.8 1212.6,774.9 1209.0,781.6 1205.0,785.5 1201.4,787.2 1197.9,785.4 1193.9,781.4 1189.7,774.8 1185.1,766.3 1181.0,754.9 1177.3,742.5 1173.0,728.4 1169.7,713.1 1166.8,697.8 1165.4,682.2 1164.9,666.8 1165.3,652.5 1167.2,639.7 1170.6,629.0 1175.1,620.1 1180.9,613.3 1187.7,609.3 1194.3,608.0 1201.6,609.1 1208.5,613.1 1214.6,620.2 1219.5,629.1 1223.9,640.0 1226.8,652.5 1228.7,667.2 1229.3,682.1 1229.1,697.6" fill="none" stroke="#666666" stroke-width="1.1" stroke-linejoin="round"/>
<polyline points="1226.2,697.8 1224.6,711.7 1222.7,725.7 1220.0,738.6 1217.7,750.4 1214.2,760.5 1211.1,768.4 1208.2,774.7 1204.8,778.4 1201.6,779.3 1198.0,778.0 1194.3,774.3 1191.0,768.8 1186.9,760.0 1183.6,750.2 1179.5,738.3 1176.2,725.8 1173.0,711.7 1170.4,697.8 1168.8,683.4 1168.7,669.4 1169.3,656.9 1171.0,645.1 1173.7,634.8 1177.8,626.9 1183.0,620.6 1189.1,617.2 1195.3,615.7 1201.3,617.1 1207.3,620.5 1212.8,626.5 1217.6,635.2 1221.7,645.0 1224.2,656.5 1225.6,669.4 1226.5,683.6 1226.2,697.8" fill="none" stroke="#666666" stroke-width="1.1" stroke-linejoin="round"/>
<polyline points="1222.8,697.8 1221.9,710.6 1220.2,723.2 1217.9,734.9 1215.4,745.3 1213.0,754.6 1210.0,762.2 1207.4,767.4 1204.2,770.8 1201.4,772.0 1198.5,770.9 1195.5,767.6 1192.1,762.0 1189.0,754.7 1185.4,745.6 1182.4,734.9 1179.4,723.3 1176.4,710.5 1174.1,697.8 1173.2,684.7 1172.5,672.4 1173.0,660.3 1174.6,650.0 1177.2,640.7 1180.8,633.5 1185.2,628.0 1189.9,624.4 1195.6,623.5 1200.9,624.7 1206.5,627.6 1211.3,633.2 1215.2,640.6 1218.7,649.7 1221.1,660.3 1222.7,672.2 1223.3,684.8 1222.8,697.8" fill="none" stroke="#666666" stroke-width="1.1" stroke-linejoin="round"/>
<polyline points="1219.6,698.0 1218.6,709.2 1217.3,720.4 1215.4,731.2 1213.4,740.2 1211.3,748.5 1208.9,755.3 1206.5,760.5 1204.2,763.2 1201.7,764.4 1198.8,763.1 1196.3,760.3 1193.7,755.6 1190.6,748.6 1187.9,740.2 1184.5,731.0 1182.2,720.3 1179.9,709.5 1177.9,697.7 1176.5,686.0 1176.5,674.9 1177.0,664.7 1178.1,654.8 1180.6,646.7 1183.3,640.0 1187.5,635.2 1191.4,632.1 1196.0,631.2 1200.9,632.0 1205.7,635.4 1209.4,640.1 1213.2,647.0 1216.4,654.8 1218.2,664.2 1219.9,674.8 1220.1,686.1 1219.6,698.0" fill="none" stroke="#666666" stroke-width="1.1" stroke-linejoin="round"/>
<polyline points="1216.8,697.8 1216.1,707.8 1214.9,717.8 1213.3,727.2 1211.4,735.7 1209.6,742.8 1207.8,748.9 1205.4,753.0 1203.6,756.1 1201.7,756.7 1199.0,756.0 1197.0,753.2 1194.8,748.9 1192.2,743.2 1189.7,735.6 1187.6,727.1 1185.0,718.1 1182.9,708.2 1181.7,697.7 1180.4,687.7 1180.4,677.4 1180.5,668.4 1181.6,659.8 1183.2,652.7 1186.2,646.5 1189.1,642.6 1193.0,639.9 1196.5,639.0 1201.1,640.1 1204.8,642.1 1208.4,646.6 1211.3,652.9 1213.8,659.7 1215.3,668.6 1216.3,677.7 1216.9,687.3 1216.8,697.8" fill="none" stroke="#666666" stroke-width="1.1" stroke-linejoin="round"/>
<polyline points="1213.7,697.6 1212.8,706.7 1211.9,715.1 1211.0,723.6 1209.8,730.6 1208.0,737.0 1206.5,742.3 1205.1,746.0 1202.9,748.5 1201.3,749.2 1199.7,748.6 1197.9,746.1 1195.8,742.3 1193.8,737.3 1192.0,730.6 1189.8,723.4 1188.3,715.2 1186.6,706.9 1185.0,698.0 1184.1,688.7 1184.1,680.2 1184.5,672.2 1185.0,665.1 1186.3,658.7 1188.4,653.2 1191.5,649.8 1194.0,647.1 1197.7,646.7 1200.8,647.1 1203.8,649.6 1206.4,653.3 1209.2,658.5 1211.0,664.7 1212.8,672.3 1213.6,680.3 1214.0,689.0 1213.7,697.6" fill="none" stroke="#666666" stroke-width="1.1" stroke-linejoin="round"/>
<polyline points="1210.6,698.0 1210.3,705.4 1209.2,712.6 1208.4,719.5 1207.8,726.0 1206.6,731.1 1205.2,736.0 1204.1,738.9 1202.7,740.7 1201.3,741.4 1200.0,740.8 1198.9,738.7 1197.1,735.6 1195.5,731.2 1194.0,726.0 1192.3,720.0 1191.1,713.1 1190.0,705.6 1188.8,698.2 1187.9,690.5 1187.7,683.1 1188.2,675.9 1188.5,669.6 1189.6,664.2 1191.3,660.4 1193.2,656.8 1195.5,654.8 1198.1,654.4 1200.2,654.8 1202.9,657.2 1205.1,660.1 1207.2,664.2 1208.2,670.0 1209.6,675.8 1210.4,683.3 1210.7,690.3 1210.6,698.0" fill="none" stroke="#666666" stroke-width="1.1" stroke-linejoin="round"/>
<polyline points="1207.3,697.7 1207.5,704.2 1207.1,710.0 1206.1,715.7 1205.5,720.9 1204.7,725.5 1203.9,728.9 1202.9,732.1 1202.1,733.5 1201.4,734.0 1200.3,733.3 1199.3,731.9 1198.7,729.2 1197.6,725.4 1196.0,721.2 1195.2,716.0 1194.1,710.4 1193.4,704.5 1192.4,698.0 1192.2,691.6 1191.5,685.6 1191.6,680.2 1192.4,674.7 1192.7,670.2 1193.9,666.6 1195.3,664.2 1196.7,662.3 1198.7,661.7 1200.1,662.4 1201.9,663.9 1203.4,666.7 1205.0,670.5 1206.2,675.0 1206.9,680.0 1207.2,685.9 1207.6,692.0 1207.3,697.7" fill="none" stroke="#666666" stroke-width="1.1" stroke-linejoin="round"/>
<line x1="1099.8" y1="482" x2="1099.8" y2="795" stroke="#444" stroke-width="1.3"/>
<line x1="1096.8" y1="482.0" x2="1099.8" y2="482.0" stroke="#444" stroke-width="1.1"/>
<line x1="1096.8" y1="502.9" x2="1099.8" y2="502.9" stroke="#444" stroke-width="1.1"/>
<line x1="1096.8" y1="523.7" x2="1099.8" y2="523.7" stroke="#444" stroke-width="1.1"/>
<line x1="1096.8" y1="544.6" x2="1099.8" y2="544.6" stroke="#444" stroke-width="1.1"/>
<line x1="1096.8" y1="565.5" x2="1099.8" y2="565.5" stroke="#444" stroke-width="1.1"/>
<line x1="1096.8" y1="586.3" x2="1099.8" y2="586.3" stroke="#444" stroke-width="1.1"/>
<line x1="1096.8" y1="607.2" x2="1099.8" y2="607.2" stroke="#444" stroke-width="1.1"/>
<line x1="1096.8" y1="628.1" x2="1099.8" y2="628.1" stroke="#444" stroke-width="1.1"/>
<line x1="1096.8" y1="648.9" x2="1099.8" y2="648.9" stroke="#444" stroke-width="1.1"/>
<line x1="1096.8" y1="669.8" x2="1099.8" y2="669.8" stroke="#444" stroke-width="1.1"/>
<line x1="1096.8" y1="690.7" x2="1099.8" y2="690.7" stroke="#444" stroke-width="1.1"/>
<line x1="1096.8" y1="711.5" x2="1099.8" y2="711.5" stroke="#444" stroke-width="1.1"/>
<line x1="1096.8" y1="732.4" x2="1099.8" y2="732.4" stroke="#444" stroke-width="1.1"/>
<line x1="1096.8" y1="753.3" x2="1099.8" y2="753.3" stroke="#444" stroke-width="1.1"/>
<line x1="1096.8" y1="774.1" x2="1099.8" y2="774.1" stroke="#444" stroke-width="1.1"/>
<line x1="1096.8" y1="795.0" x2="1099.8" y2="795.0" stroke="#444" stroke-width="1.1"/>
<text x="1095" y="487.6" font-size="12.5" text-anchor="end" font-weight="normal" fill="#1a1a1a" stroke="#1a1a1a" stroke-width="0.25">3,00</text>
<text x="1095" y="550.3" font-size="12.5" text-anchor="end" font-weight="normal" fill="#1a1a1a" stroke="#1a1a1a" stroke-width="0.25">2,4</text>
<text x="1095" y="612.3" font-size="12.5" text-anchor="end" font-weight="normal" fill="#1a1a1a" stroke="#1a1a1a" stroke-width="0.25">1,8</text>
<text x="1095" y="674.3" font-size="12.5" text-anchor="end" font-weight="normal" fill="#1a1a1a" stroke="#1a1a1a" stroke-width="0.25">1,2</text>
<text x="1095" y="736.0" font-size="12.5" text-anchor="end" font-weight="normal" fill="#1a1a1a" stroke="#1a1a1a" stroke-width="0.25">0,6</text>
<text x="1095" y="799.3" font-size="12.5" text-anchor="end" font-weight="normal" fill="#1a1a1a" stroke="#1a1a1a" stroke-width="0.25">0,00</text>
<line x1="1098" y1="608.6" x2="1435" y2="608.6" stroke="#8f8f8f" stroke-width="4.5"/>
<line x1="1098" y1="796.7" x2="1435" y2="796.7" stroke="#fbb117" stroke-width="5.5"/>
<text x="1104.3" y="816" font-size="12.5" text-anchor="middle" font-weight="normal" fill="#1a1a1a" stroke="#1a1a1a" stroke-width="0.25">250</text>
<text x="1159.1299999999999" y="816" font-size="12.5" text-anchor="middle" font-weight="normal" fill="#1a1a1a" stroke="#1a1a1a" stroke-width="0.25">300</text>
<text x="1213.96" y="816" font-size="12.5" text-anchor="middle" font-weight="normal" fill="#1a1a1a" stroke="#1a1a1a" stroke-width="0.25">350</text>
<text x="1268.79" y="816" font-size="12.5" text-anchor="middle" font-weight="normal" fill="#1a1a1a" stroke="#1a1a1a" stroke-width="0.25">400</text>
<text x="1323.62" y="816" font-size="12.5" text-anchor="middle" font-weight="normal" fill="#1a1a1a" stroke="#1a1a1a" stroke-width="0.25">450</text>
<text x="1378.4499999999998" y="816" font-size="12.5" text-anchor="middle" font-weight="normal" fill="#1a1a1a" stroke="#1a1a1a" stroke-width="0.25">500</text>
<text x="1433.28" y="816" font-size="12.5" text-anchor="middle" font-weight="normal" fill="#1a1a1a" stroke="#1a1a1a" stroke-width="0.25">550</text>
<text x="1045" y="501" font-size="17" text-anchor="middle" font-weight="bold" fill="#1a1a1a" >pφ</text>
<text x="1268.3" y="839.5" font-size="17" text-anchor="middle" font-weight="bold" fill="#1a1a1a" >nm</text>
<path d="M504.5,171 L504.5,102.5 A97,97 0 0 1 601.5,5.5 L892.5,5.5 A97,97 0 0 1 989.5,102.5 L989.5,265 L1163,326 L989.5,295 L989.5,323.5 A97,97 0 0 1 892.5,420.5 L601.5,420.5 A97,97 0 0 1 504.5,323.5 L504.5,202 L206,306 Z" fill="#fff" stroke="#929292" stroke-width="4" stroke-linejoin="miter" stroke-miterlimit="4"/>
<path d="M535,473 A100,100 0 0 1 607.5,443 L887.5,443 A100,100 0 0 1 966.4,482.8 L1243.8,401.8 L979.2,502.8 A100,100 0 0 1 987.5,543 L987.5,759 A100,100 0 0 1 887.5,859 L607.5,859 A100,100 0 0 1 507.5,759 L507.5,543 A100,100 0 0 1 520.4,492 L368.2,386.5 Z" fill="#fff" stroke="#fbb016" stroke-width="5" stroke-linejoin="miter" stroke-miterlimit="40"/>
<text x="747.5" y="58.4" font-size="28.5" text-anchor="middle" font-weight="normal" fill="#111" textLength="179.7" lengthAdjust="spacingAndGlyphs" stroke="#111" stroke-width="0.55">Dillution 1:50</text>
<line x1="569.8" y1="75.60000000000002" x2="569.8" y2="330.6" stroke="#8a8a8a" stroke-width="1.3"/>
<line x1="566.8" y1="330.6" x2="948.4" y2="330.6" stroke="#8a8a8a" stroke-width="1.3"/>
<line x1="566.8" y1="330.6" x2="569.8" y2="330.6" stroke="#8a8a8a" stroke-width="1.3"/>
<text x="559.3" y="337.6" font-size="12.5" text-anchor="end" font-weight="normal" fill="#1a1a1a" stroke="#1a1a1a" stroke-width="0.25">0</text>
<line x1="566.8" y1="279.6" x2="569.8" y2="279.6" stroke="#8a8a8a" stroke-width="1.3"/>
<text x="559.3" y="286.6" font-size="12.5" text-anchor="end" font-weight="normal" fill="#1a1a1a" stroke="#1a1a1a" stroke-width="0.25">50</text>
<line x1="566.8" y1="228.60000000000002" x2="569.8" y2="228.60000000000002" stroke="#8a8a8a" stroke-width="1.3"/>
<text x="559.3" y="235.60000000000002" font-size="12.5" text-anchor="end" font-weight="normal" fill="#1a1a1a" stroke="#1a1a1a" stroke-width="0.25">100</text>
<line x1="566.8" y1="177.60000000000002" x2="569.8" y2="177.60000000000002" stroke="#8a8a8a" stroke-width="1.3"/>
<text x="559.3" y="184.60000000000002" font-size="12.5" text-anchor="end" font-weight="normal" fill="#1a1a1a" stroke="#1a1a1a" stroke-width="0.25">150</text>
<line x1="566.8" y1="126.60000000000002" x2="569.8" y2="126.60000000000002" stroke="#8a8a8a" stroke-width="1.3"/>
<text x="559.3" y="133.60000000000002" font-size="12.5" text-anchor="end" font-weight="normal" fill="#1a1a1a" stroke="#1a1a1a" stroke-width="0.25">200</text>
<line x1="566.8" y1="75.60000000000002" x2="569.8" y2="75.60000000000002" stroke="#8a8a8a" stroke-width="1.3"/>
<text x="559.3" y="82.60000000000002" font-size="12.5" text-anchor="end" font-weight="normal" fill="#1a1a1a" stroke="#1a1a1a" stroke-width="0.25">250</text>
<line x1="569.8" y1="330.6" x2="569.8" y2="333.6" stroke="#8a8a8a" stroke-width="1.3"/>
<text x="572.8" y="354.6" font-size="12.5" text-anchor="middle" font-weight="normal" fill="#1a1a1a" stroke="#1a1a1a" stroke-width="0.25">250</text>
<line x1="632.9" y1="330.6" x2="632.9" y2="333.6" stroke="#8a8a8a" stroke-width="1.3"/>
<text x="635.9" y="354.6" font-size="12.5" text-anchor="middle" font-weight="normal" fill="#1a1a1a" stroke="#1a1a1a" stroke-width="0.25">300</text>
<line x1="696.0" y1="330.6" x2="696.0" y2="333.6" stroke="#8a8a8a" stroke-width="1.3"/>
<text x="699.0" y="354.6" font-size="12.5" text-anchor="middle" font-weight="normal" fill="#1a1a1a" stroke="#1a1a1a" stroke-width="0.25">350</text>
<line x1="759.0999999999999" y1="330.6" x2="759.0999999999999" y2="333.6" stroke="#8a8a8a" stroke-width="1.3"/>
<text x="762.0999999999999" y="354.6" font-size="12.5" text-anchor="middle" font-weight="normal" fill="#1a1a1a" stroke="#1a1a1a" stroke-width="0.25">400</text>
<line x1="822.1999999999999" y1="330.6" x2="822.1999999999999" y2="333.6" stroke="#8a8a8a" stroke-width="1.3"/>
<text x="825.1999999999999" y="354.6" font-size="12.5" text-anchor="middle" font-weight="normal" fill="#1a1a1a" stroke="#1a1a1a" stroke-width="0.25">450</text>
<line x1="885.3" y1="330.6" x2="885.3" y2="333.6" stroke="#8a8a8a" stroke-width="1.3"/>
<text x="888.3" y="354.6" font-size="12.5" text-anchor="middle" font-weight="normal" fill="#1a1a1a" stroke="#1a1a1a" stroke-width="0.25">500</text>
<line x1="948.4" y1="330.6" x2="948.4" y2="333.6" stroke="#8a8a8a" stroke-width="1.3"/>
<text x="951.4" y="354.6" font-size="12.5" text-anchor="middle" font-weight="normal" fill="#1a1a1a" stroke="#1a1a1a" stroke-width="0.25">550</text>
<polyline points="570.0,327.0 571.2,325.6 572.3,324.4 573.5,323.5 574.7,321.6 575.8,320.3 577.0,319.1 577.5,317.0 578.0,315.8 578.5,314.4 579.0,313.0 579.5,310.6 580.0,309.3 580.5,307.4 581.0,306.7 581.5,305.0 582.0,302.6 582.5,302.2 583.0,300.6 583.2,298.6 583.4,296.9 583.6,294.8 583.8,293.0 584.0,292.0 584.2,289.9 584.4,288.4 584.6,286.9 584.8,285.0 585.0,284.0 585.2,282.3 585.4,281.2 585.6,279.2 585.8,277.8 586.0,276.0 586.2,274.6 586.4,272.7 586.6,270.9 586.8,270.2 587.0,268.6 587.3,266.8 587.6,265.0 587.9,263.0 588.2,261.3 588.5,259.7 588.8,257.9 589.1,257.1 589.4,255.1 589.7,254.0 590.0,251.9 590.3,250.9 590.6,249.2 590.9,246.6 591.2,245.3 591.5,244.5 591.8,242.4 592.1,241.4 592.4,239.1 592.7,237.1 593.0,236.2 593.1,234.7 593.2,232.5 593.4,230.7 593.5,229.4 593.6,228.6 593.7,226.7 593.8,224.3 594.0,222.9 594.1,221.1 594.2,219.5 594.3,218.8 594.4,216.4 594.6,215.3 594.7,213.5 594.8,211.6 594.9,210.7 595.0,208.4 595.2,207.4 595.3,205.1 595.4,203.9 595.5,202.1 595.6,200.5 595.8,199.8 595.9,198.0 596.0,195.8 596.3,194.9 596.5,192.5 596.8,191.1 597.1,190.0 597.3,188.2 597.6,185.9 597.9,185.4 598.1,182.9 598.4,181.3 598.7,180.3 598.9,178.2 599.2,176.6 599.5,174.7 599.7,173.1 600.0,172.1 600.3,170.1 600.5,168.9 600.8,167.0 601.1,165.5 601.3,164.6 601.6,162.4 601.9,160.9 602.1,159.6 602.4,157.2 602.7,155.6 602.9,154.9 603.2,153.2 603.5,150.9 603.7,149.2 604.0,148.3 604.4,146.8 604.9,144.2 605.3,143.4 605.7,141.6 606.1,139.6 606.6,137.6 607.0,135.5 607.3,137.1 607.7,139.9 608.0,140.7 608.3,142.9 608.7,144.0 609.0,146.4 609.3,147.8 609.7,149.1 610.0,150.6 610.8,153.0 611.5,154.0 612.2,155.9 613.0,158.1 613.4,160.1 613.9,161.6 614.3,162.9 614.7,165.4 615.1,166.2 615.6,167.7 616.0,169.7 616.8,171.3 617.6,172.3 618.4,173.8 619.2,175.4 620.0,177.1 621.2,177.8 622.5,179.3 623.8,181.2 625.0,182.6 625.6,184.0 626.2,185.8 626.8,187.5 627.4,188.8 628.0,190.4 629.3,189.4 630.7,189.5 632.0,188.2 632.7,190.1 633.4,190.6 634.1,192.9 634.9,194.3 635.6,196.1 636.3,197.2 637.0,199.6 637.5,200.1 637.9,202.3 638.4,204.2 638.8,206.0 639.3,207.5 639.7,209.1 640.2,210.8 640.6,212.6 641.1,213.5 641.5,215.6 642.0,217.5 642.4,219.0 642.8,220.1 643.2,222.1 643.7,223.8 644.1,225.0 644.5,226.6 644.9,227.9 645.3,229.8 645.8,231.4 646.2,232.3 646.6,234.6 647.0,236.6 647.4,238.1 647.8,239.5 648.1,240.7 648.5,242.8 648.9,244.2 649.3,245.6 649.7,247.7 650.0,248.5 650.4,250.9 650.8,251.6 651.2,253.9 651.6,255.4 652.0,256.7 652.3,258.9 652.7,260.3 653.1,262.0 653.5,264.0 653.9,264.8 654.2,266.2 654.6,268.1 655.0,270.2 655.8,271.1 656.5,272.6 657.2,275.0 658.0,276.2 658.8,277.4 659.5,279.5 660.2,280.3 661.0,282.2 662.6,282.0 664.2,282.7 665.8,283.6 667.4,284.1 669.0,284.5 670.6,283.1 672.1,282.7 673.7,281.6 675.3,280.7 676.9,280.4 678.4,280.1 680.0,279.4 681.8,279.3 683.7,279.5 685.5,278.7 687.3,278.6 689.2,278.9 691.0,278.7 692.2,279.9 693.5,281.4 694.8,282.9 696.0,284.0 697.2,285.0 698.5,286.9 699.8,288.3 701.0,288.9 702.3,289.5 703.7,290.4 705.0,292.4 706.3,292.4 707.7,294.3 709.0,295.1 710.3,295.8 711.7,297.3 713.0,297.4 714.3,298.6 715.7,299.9 717.0,300.4 718.2,302.5 719.4,302.9 720.5,303.8 721.7,304.8 722.9,306.6 724.1,307.5 725.3,308.8 726.5,309.9 727.6,311.2 728.8,312.5 730.0,313.2 731.5,313.3 732.9,314.4 734.4,314.7 735.8,315.2 737.3,316.4 738.8,317.4 740.2,317.5 741.7,318.3 743.2,319.0 744.6,320.2 746.1,320.6 747.5,321.4 749.0,322.3 750.6,322.2 752.2,323.0 753.8,323.4 755.5,322.7 757.1,324.1 758.7,324.1 760.3,323.7 761.9,324.4 763.5,324.9 765.2,325.6 766.8,325.2 768.4,325.8 770.0,326.5 771.7,326.5 773.4,326.8 775.1,326.3 776.8,326.7 778.4,326.3 780.1,327.0 781.8,327.3 783.5,327.2 785.2,327.4 786.9,326.9 788.6,327.9 790.2,328.1 791.9,328.2 793.6,327.8 795.3,328.2 797.0,327.8 798.6,328.5 800.2,328.5 801.9,327.9 803.5,327.7 805.1,328.1 806.8,328.3 808.4,328.6 810.0,328.3 811.6,327.8 813.2,328.8 814.9,328.0 816.5,328.9 818.1,328.2 819.8,328.4 821.4,329.0 823.0,328.3 824.6,328.3 826.3,328.8 827.9,329.1 829.5,329.3 831.2,329.1 832.8,329.5 834.5,329.0 836.1,329.6 837.7,328.6 839.4,328.8 841.0,329.2 842.6,328.9 844.3,329.5 845.9,329.4 847.5,329.3 849.2,329.7 850.8,329.4 852.5,329.2 854.1,329.3 855.7,329.9 857.4,330.0 859.0,329.2 860.6,330.0 862.3,330.2 863.9,329.7 865.5,329.8 867.2,329.4 868.8,329.8 870.5,329.8 872.1,330.0 873.7,329.4 875.4,330.5 877.0,330.0 878.6,329.9 880.3,330.4 881.9,330.1 883.5,330.0 885.1,330.3 886.8,329.5 888.4,330.1 890.0,330.0 891.7,330.7 893.3,330.6 894.9,329.9 896.5,330.1 898.2,329.7 899.8,330.1 901.4,330.6 903.0,330.7 904.7,330.2 906.3,330.0 907.9,329.9 909.6,330.4 911.2,330.8 912.8,329.8 914.4,330.6 916.1,329.7 917.7,329.9 919.3,330.0 921.0,330.5 922.6,330.1 924.2,330.2 925.8,330.5 927.5,329.9 929.1,330.6 930.7,329.9 932.3,330.4 934.0,330.1 935.6,330.1 937.2,330.5 938.9,330.4 940.5,330.3 942.1,330.4 943.7,330.5 945.4,330.1 947.0,330.5" fill="none" stroke="#1d5bb4" stroke-width="2.2" stroke-linejoin="round" stroke-linecap="round"/>
<polyline points="570.0,330.0 571.5,328.7 573.0,327.7 574.5,326.4 576.0,324.6 576.8,322.9 577.6,321.7 578.3,320.1 579.1,319.2 579.9,317.5 580.7,315.8 581.4,314.2 582.2,312.7 583.0,310.6 583.5,309.3 583.9,307.4 584.4,306.7 584.9,304.1 585.4,303.4 585.8,301.0 586.3,300.1 586.8,298.1 587.2,296.6 587.7,295.5 588.2,293.0 588.6,291.4 589.1,290.9 589.6,288.8 590.1,286.7 590.5,286.2 591.0,284.5 591.2,281.9 591.4,280.7 591.7,278.7 591.9,277.3 592.1,276.1 592.3,273.9 592.6,273.0 592.8,270.6 593.0,269.1 593.2,268.3 593.4,266.2 593.7,264.6 593.9,263.2 594.1,261.4 594.3,259.7 594.6,257.7 594.8,256.9 595.0,255.6 595.3,254.0 595.5,252.0 595.8,250.1 596.1,248.5 596.3,247.3 596.6,245.7 596.8,243.5 597.1,242.1 597.4,240.6 597.6,239.2 597.9,238.0 598.2,236.1 598.4,233.9 598.7,233.3 598.9,231.2 599.2,229.8 599.5,227.8 599.7,226.5 600.0,224.9 600.4,223.7 600.7,221.3 601.1,220.2 601.5,218.1 601.8,217.1 602.2,214.7 602.6,213.3 602.9,211.8 603.3,210.5 603.7,208.1 604.1,207.0 604.4,205.1 604.8,203.5 605.2,202.1 605.5,201.1 605.9,198.9 606.3,197.8 606.6,195.2 607.0,194.5 607.4,192.3 607.9,190.5 608.3,189.6 608.8,188.3 609.2,185.6 609.7,184.4 610.1,183.4 610.6,181.4 611.0,179.7 612.8,178.7 614.5,177.9 616.2,177.9 618.0,177.6 619.7,178.6 621.3,179.0 623.0,179.4 623.9,178.4 624.7,177.5 625.6,176.1 626.4,174.5 627.3,172.5 628.1,171.5 629.0,170.0 629.2,168.6 629.4,166.5 629.6,165.7 629.8,164.1 630.0,161.6 630.2,160.1 630.4,159.2 630.6,156.9 630.8,156.1 631.0,154.0 631.2,152.6 631.4,151.0 631.6,148.9 631.8,147.3 632.0,145.7 632.6,144.6 633.1,143.1 633.7,140.8 634.3,140.2 634.9,138.0 635.4,136.3 636.0,134.9 636.5,134.0 636.9,131.8 637.4,130.3 637.8,129.0 638.3,127.5 638.8,125.6 639.2,123.6 639.7,122.2 640.2,120.9 640.6,119.2 641.1,117.3 641.5,115.4 642.0,113.8 642.5,115.9 642.9,117.3 643.4,118.3 643.8,120.8 644.3,122.7 644.7,124.2 645.2,125.9 645.6,127.6 646.1,128.8 646.5,130.7 647.0,131.9 647.2,133.1 647.4,135.0 647.6,136.6 647.8,138.9 648.0,140.2 648.2,141.6 648.4,143.3 648.6,144.3 648.8,146.4 649.0,148.2 649.2,149.5 649.4,150.9 649.6,152.7 649.8,154.2 650.0,156.2 650.2,157.2 650.4,158.7 650.6,160.6 650.8,162.6 651.0,164.3 651.5,165.7 651.9,167.6 652.4,168.4 652.9,169.6 653.4,171.6 653.8,173.1 654.3,174.3 654.8,176.4 655.2,177.6 655.7,179.0 656.2,180.6 656.6,182.9 657.1,183.3 657.6,185.2 658.1,186.7 658.5,188.1 659.0,189.9 659.6,188.2 660.2,187.5 660.8,185.5 661.3,184.2 661.9,182.1 662.5,181.0 663.1,179.6 663.7,178.4 664.2,176.2 664.8,175.0 665.4,173.9 666.0,172.4 666.8,170.0 667.7,168.7 668.5,167.3 669.3,165.2 670.2,163.9 671.0,162.2 672.0,161.1 673.0,159.1 674.0,157.7 675.0,155.8 676.0,154.8 677.0,152.8 677.9,151.6 678.7,150.0 679.6,148.5 680.4,146.8 681.3,145.5 682.1,144.5 683.0,142.7 683.8,141.0 684.6,140.5 685.3,138.4 686.1,137.7 686.9,135.9 687.7,134.2 688.4,133.3 689.2,131.9 690.0,129.8 690.9,128.1 691.8,127.2 692.6,125.9 693.5,124.1 694.4,122.8 695.2,120.9 696.1,119.6 697.0,117.7 697.9,119.3 698.8,120.6 699.6,122.0 700.5,123.4 701.4,125.2 702.2,125.9 703.1,127.3 704.0,128.7 704.9,131.1 705.7,132.2 706.6,133.2 707.4,135.7 708.3,137.3 709.1,138.8 710.0,139.8 710.3,141.9 710.6,143.0 710.8,144.4 711.1,146.8 711.4,148.4 711.7,149.3 712.0,151.7 712.2,152.2 712.5,154.2 712.8,155.4 713.1,157.2 713.4,158.8 713.6,161.1 713.9,162.2 714.2,163.6 714.5,165.2 714.8,167.0 715.0,169.2 715.3,170.5 715.6,171.5 715.9,173.8 716.2,175.2 716.4,176.7 716.7,178.4 717.0,180.2 717.3,182.0 717.5,183.2 717.8,185.0 718.1,186.4 718.3,188.2 718.6,189.5 718.9,191.1 719.1,192.8 719.4,194.7 719.7,195.7 719.9,198.1 720.2,199.2 720.5,201.2 720.7,202.6 721.0,204.5 721.3,205.8 721.5,207.1 721.8,208.7 722.1,210.5 722.3,212.3 722.6,214.0 722.9,214.8 723.1,216.3 723.4,217.9 723.7,219.5 723.9,221.1 724.2,222.6 724.5,224.5 724.7,225.9 725.0,228.2 725.5,229.7 726.0,231.7 726.5,233.2 727.0,234.5 727.5,236.4 728.0,236.8 728.5,238.6 729.0,241.0 729.5,242.0 730.0,243.3 730.5,245.5 731.0,246.7 731.5,248.4 732.0,249.7 732.5,251.1 733.0,252.5 733.8,254.6 734.5,256.5 735.2,258.1 736.0,259.3 736.8,261.0 737.5,261.8 738.2,263.3 739.0,265.5 739.8,266.6 740.5,268.2 741.2,268.9 742.0,270.7 742.8,272.4 743.7,274.2 744.5,275.7 745.3,277.1 746.2,278.0 747.0,279.5 747.8,281.5 748.7,283.1 749.5,284.0 750.3,285.1 751.2,287.0 752.0,288.4 752.8,289.6 753.7,290.9 754.5,292.5 755.3,294.2 756.2,295.1 757.0,297.0 758.3,298.7 759.6,299.6 760.9,300.2 762.2,301.6 763.5,302.4 764.8,304.3 766.1,305.3 767.4,306.0 768.7,307.6 770.0,308.8 771.6,309.3 773.2,309.6 774.9,310.0 776.5,310.5 778.1,311.8 779.8,311.5 781.4,312.2 783.0,312.7 784.6,312.8 786.1,313.5 787.7,313.7 789.2,314.3 790.8,314.8 792.3,315.2 793.9,316.3 795.4,316.0 797.0,316.5 798.6,317.3 800.2,317.4 801.9,318.0 803.5,318.5 805.1,318.3 806.8,319.4 808.4,319.1 810.0,319.7 811.6,320.5 813.2,320.9 814.9,320.7 816.5,320.3 818.1,320.7 819.8,320.7 821.4,321.5 823.0,321.0 824.8,320.8 826.5,321.1 828.2,321.0 830.0,320.8 831.8,320.5 833.5,320.9 835.2,320.1 837.0,320.5 838.6,319.9 840.2,320.0 841.8,319.8 843.4,320.3 845.0,320.3 846.6,319.7 848.2,320.0 849.8,320.3 851.4,320.0 853.0,320.2 854.6,320.5 856.2,320.9 857.9,320.8 859.5,321.1 861.1,321.1 862.8,322.5 864.4,322.7 866.0,322.6 867.7,323.7 869.3,324.1 871.0,323.6 872.7,324.9 874.3,324.8 876.0,325.1 877.7,325.5 879.3,326.2 881.0,326.2 882.6,326.4 884.2,326.6 885.8,327.1 887.4,327.1 889.0,327.2 890.6,328.3 892.2,328.0 893.8,328.3 895.4,328.6 897.0,329.2 898.7,328.3 900.3,328.5 902.0,329.3 903.7,329.4 905.3,329.5 907.0,329.0 908.7,328.9 910.3,328.7 912.0,329.6 913.7,329.5 915.3,329.3 917.0,329.6 918.7,329.1 920.3,329.4 922.0,329.9 923.7,329.0 925.3,329.7 927.0,329.2 928.7,330.1 930.3,330.1 932.0,329.9 933.7,329.7 935.3,329.3 937.0,329.9 938.7,329.8 940.3,329.9 942.0,329.5 943.7,330.6 945.3,330.2 947.0,330.2" fill="none" stroke="#c0282d" stroke-width="2.2" stroke-linejoin="round" stroke-linecap="round"/>
<text x="747.5" y="499.3" font-size="29" text-anchor="middle" font-weight="normal" fill="#111" textLength="214.9" lengthAdjust="spacingAndGlyphs" stroke="#111" stroke-width="0.55">Undiluted urine</text>
<line x1="570.4" y1="520.6" x2="570.4" y2="764.2" stroke="#8a8a8a" stroke-width="1.3"/>
<line x1="567.4" y1="764.2" x2="955.3" y2="764.2" stroke="#8a8a8a" stroke-width="1.3"/>
<line x1="567.4" y1="764.2" x2="570.4" y2="764.2" stroke="#8a8a8a" stroke-width="1.3"/>
<text x="559.9" y="772.2" font-size="12.5" text-anchor="end" font-weight="normal" fill="#1a1a1a" stroke="#1a1a1a" stroke-width="0.25">0</text>
<line x1="567.4" y1="723.6" x2="570.4" y2="723.6" stroke="#8a8a8a" stroke-width="1.3"/>
<text x="559.9" y="731.6" font-size="12.5" text-anchor="end" font-weight="normal" fill="#1a1a1a" stroke="#1a1a1a" stroke-width="0.25">200</text>
<line x1="567.4" y1="683.0" x2="570.4" y2="683.0" stroke="#8a8a8a" stroke-width="1.3"/>
<text x="559.9" y="691.0" font-size="12.5" text-anchor="end" font-weight="normal" fill="#1a1a1a" stroke="#1a1a1a" stroke-width="0.25">400</text>
<line x1="567.4" y1="642.4000000000001" x2="570.4" y2="642.4000000000001" stroke="#8a8a8a" stroke-width="1.3"/>
<text x="559.9" y="650.4000000000001" font-size="12.5" text-anchor="end" font-weight="normal" fill="#1a1a1a" stroke="#1a1a1a" stroke-width="0.25">600</text>
<line x1="567.4" y1="601.8000000000001" x2="570.4" y2="601.8000000000001" stroke="#8a8a8a" stroke-width="1.3"/>
<text x="559.9" y="609.8000000000001" font-size="12.5" text-anchor="end" font-weight="normal" fill="#1a1a1a" stroke="#1a1a1a" stroke-width="0.25">800</text>
<line x1="567.4" y1="561.2" x2="570.4" y2="561.2" stroke="#8a8a8a" stroke-width="1.3"/>
<text x="559.9" y="569.2" font-size="12.5" text-anchor="end" font-weight="normal" fill="#1a1a1a" stroke="#1a1a1a" stroke-width="0.25">1000</text>
<line x1="567.4" y1="520.6" x2="570.4" y2="520.6" stroke="#8a8a8a" stroke-width="1.3"/>
<text x="559.9" y="528.6" font-size="12.5" text-anchor="end" font-weight="normal" fill="#1a1a1a" stroke="#1a1a1a" stroke-width="0.25">1200</text>
<line x1="570.4" y1="764.2" x2="570.4" y2="767.2" stroke="#8a8a8a" stroke-width="1.3"/>
<text x="573.4" y="790.2" font-size="12.5" text-anchor="middle" font-weight="normal" fill="#1a1a1a" stroke="#1a1a1a" stroke-width="0.25">250</text>
<line x1="634.55" y1="764.2" x2="634.55" y2="767.2" stroke="#8a8a8a" stroke-width="1.3"/>
<text x="637.55" y="790.2" font-size="12.5" text-anchor="middle" font-weight="normal" fill="#1a1a1a" stroke="#1a1a1a" stroke-width="0.25">300</text>
<line x1="698.7" y1="764.2" x2="698.7" y2="767.2" stroke="#8a8a8a" stroke-width="1.3"/>
<text x="701.7" y="790.2" font-size="12.5" text-anchor="middle" font-weight="normal" fill="#1a1a1a" stroke="#1a1a1a" stroke-width="0.25">350</text>
<line x1="762.8499999999999" y1="764.2" x2="762.8499999999999" y2="767.2" stroke="#8a8a8a" stroke-width="1.3"/>
<text x="765.8499999999999" y="790.2" font-size="12.5" text-anchor="middle" font-weight="normal" fill="#1a1a1a" stroke="#1a1a1a" stroke-width="0.25">400</text>
<line x1="827.0" y1="764.2" x2="827.0" y2="767.2" stroke="#8a8a8a" stroke-width="1.3"/>
<text x="830.0" y="790.2" font-size="12.5" text-anchor="middle" font-weight="normal" fill="#1a1a1a" stroke="#1a1a1a" stroke-width="0.25">450</text>
<line x1="891.1500000000001" y1="764.2" x2="891.1500000000001" y2="767.2" stroke="#8a8a8a" stroke-width="1.3"/>
<text x="894.1500000000001" y="790.2" font-size="12.5" text-anchor="middle" font-weight="normal" fill="#1a1a1a" stroke="#1a1a1a" stroke-width="0.25">500</text>
<line x1="955.3" y1="764.2" x2="955.3" y2="767.2" stroke="#8a8a8a" stroke-width="1.3"/>
<text x="958.3" y="790.2" font-size="12.5" text-anchor="middle" font-weight="normal" fill="#1a1a1a" stroke="#1a1a1a" stroke-width="0.25">550</text>
<polyline points="570.4,764.0 572.0,763.7 573.6,764.1 575.2,764.0 576.9,764.2 578.5,763.4 580.1,763.4 581.7,763.3 583.3,763.3 584.9,763.8 586.5,763.1 588.2,763.5 589.8,763.1 591.4,763.2 593.0,763.3 594.6,763.6 596.2,763.3 597.9,762.7 599.5,762.9 601.1,762.7 602.7,763.4 604.3,763.3 605.9,763.2 607.5,763.2 609.2,763.1 610.8,763.2 612.4,763.0 614.0,762.5 615.7,763.0 617.3,762.6 619.0,762.8 620.7,762.6 622.3,762.4 624.0,762.3 625.7,762.3 627.3,762.1 629.0,761.9 630.7,762.6 632.3,762.5 634.0,762.6 635.7,762.3 637.3,762.1 639.0,762.2 640.4,760.2 641.8,759.4 643.1,757.7 644.5,756.1 645.4,754.6 646.3,753.4 647.2,751.7 648.2,750.4 649.1,749.0 650.0,747.3 650.4,745.4 650.8,744.1 651.2,742.2 651.5,740.6 651.9,738.9 652.3,737.4 652.7,735.5 653.1,734.4 653.5,733.0 653.8,730.8 654.2,729.5 654.6,728.1 655.0,725.5 655.6,724.1 656.2,723.3 656.8,721.8 657.4,720.1 658.0,718.2 658.6,716.9 659.2,715.9 659.8,714.4 660.4,712.8 661.0,710.7 661.8,709.9 662.7,708.0 663.5,706.9 664.3,704.9 665.2,704.3 666.0,702.5 666.3,701.0 666.6,698.8 666.9,697.6 667.2,695.9 667.5,694.3 667.9,692.4 668.2,691.1 668.5,689.1 668.8,687.4 669.1,685.6 669.4,684.5 669.7,682.3 670.1,680.8 670.5,678.9 670.9,677.8 671.3,676.1 671.7,674.4 672.1,672.2 672.6,671.0 673.0,669.2 673.4,667.3 673.8,665.5 674.2,664.8 674.6,662.3 675.0,660.8 675.4,659.1 675.7,657.8 676.1,655.6 676.5,654.3 676.8,652.5 677.2,651.3 677.6,648.8 677.9,647.5 678.3,646.0 678.7,644.8 679.0,642.7 679.4,641.0 679.8,639.5 680.1,637.5 680.5,635.5 680.8,634.4 681.0,633.2 681.3,631.4 681.6,629.3 681.9,628.1 682.1,626.6 682.4,624.4 682.7,623.1 683.0,621.2 683.2,619.5 683.5,617.9 683.8,616.2 684.1,614.7 684.4,612.8 684.6,611.5 684.9,609.6 685.2,608.6 685.5,606.8 685.7,604.6 686.0,603.8 686.3,601.6 686.6,600.3 686.9,598.7 687.3,596.9 687.6,595.3 687.9,593.8 688.2,591.9 688.5,591.0 688.8,588.7 689.2,587.8 689.5,585.6 689.8,584.0 690.1,582.5 690.4,580.6 690.7,579.0 691.1,577.7 691.4,576.2 691.7,575.0 692.0,573.5 692.8,571.0 693.6,569.9 694.4,567.9 695.2,567.0 696.1,564.9 696.9,563.9 697.7,562.0 698.5,560.0 699.7,561.1 700.9,562.5 702.1,564.4 703.3,564.8 704.5,566.4 705.7,567.5 706.4,568.9 707.2,570.8 707.9,571.6 708.6,573.6 709.4,575.0 710.1,576.7 710.8,577.7 711.5,579.5 712.3,580.5 713.0,582.1 713.4,583.8 713.8,585.6 714.2,587.4 714.5,588.2 714.9,589.9 715.3,592.0 715.7,593.9 716.1,595.3 716.5,596.7 716.8,599.0 717.2,600.0 717.6,601.4 718.0,603.1 718.4,604.6 718.8,606.9 719.1,607.8 719.5,610.0 719.9,611.7 720.3,613.4 720.7,614.8 721.0,616.0 721.4,617.7 721.8,619.5 722.2,620.9 722.6,622.1 722.9,624.1 723.3,625.0 723.7,626.8 724.1,629.2 724.5,630.3 724.8,631.8 725.2,633.9 725.6,635.3 726.0,636.5 726.4,638.2 726.7,640.1 727.1,641.8 727.5,644.1 727.9,645.1 728.2,647.3 728.6,649.0 729.0,650.2 729.5,652.4 729.9,653.8 730.4,655.2 730.8,656.6 731.3,658.5 731.8,660.6 732.2,661.8 732.7,663.1 733.1,665.0 733.6,666.7 734.0,668.0 734.5,670.1 735.1,671.1 735.7,673.5 736.3,674.5 736.9,676.0 737.6,678.1 738.2,679.5 738.8,681.7 739.4,682.9 740.0,684.5 740.7,686.4 741.4,687.4 742.1,689.6 742.8,691.1 743.5,692.5 744.2,694.6 744.9,695.3 745.6,697.7 746.3,698.6 747.0,700.9 747.9,701.6 748.8,702.8 749.7,704.6 750.6,706.4 751.5,707.0 752.4,708.6 753.4,710.1 754.3,711.1 755.2,712.7 756.1,713.5 757.0,715.3 757.9,716.9 758.8,717.8 760.1,718.8 761.4,719.6 762.8,721.3 764.1,722.1 765.4,723.6 766.7,724.5 768.0,724.9 769.4,726.7 770.7,727.8 772.0,728.7 773.5,729.5 774.9,730.2 776.4,731.1 777.9,731.8 779.4,732.5 780.8,733.0 782.3,733.7 783.8,735.1 785.2,735.8 786.7,736.1 788.3,737.2 789.9,737.7 791.5,738.1 793.0,738.9 794.6,739.6 796.2,739.6 797.8,740.6 799.4,740.8 801.0,741.4 802.5,741.8 804.1,742.9 805.7,742.9 807.3,743.6 808.9,743.1 810.5,743.6 812.1,744.0 813.7,743.9 815.3,743.7 816.9,743.5 818.5,744.1 820.1,744.1 821.7,744.7 823.3,744.8 824.9,745.0 826.5,744.4 828.1,744.4 829.7,744.6 831.3,744.7 833.0,744.1 834.6,744.2 836.2,744.1 837.8,744.3 839.4,744.3 841.0,745.0 842.6,744.0 844.2,744.6 845.9,743.8 847.5,743.5 849.1,744.1 850.7,743.1 852.4,742.9 854.0,742.8 855.6,742.6 857.3,743.3 858.9,743.6 860.6,743.9 862.3,744.2 864.0,745.3 865.6,745.1 867.3,745.7 868.8,746.9 870.2,748.1 871.7,748.8 873.2,749.7 874.6,750.6 876.1,751.6 877.6,752.5 879.1,752.7 880.5,753.5 882.0,754.9 883.6,755.5 885.3,756.1 886.9,757.0 888.5,757.1 890.2,758.3 891.8,758.7 893.4,759.3 895.1,759.8 896.7,760.5 898.3,761.1 899.9,761.4 901.6,762.1 903.2,761.8 904.8,762.5 906.4,762.2 908.1,763.1 909.7,762.9 911.3,764.0 912.9,764.1 914.6,763.4 916.2,764.0 917.8,763.4 919.4,763.5 921.1,763.4 922.7,763.7 924.3,763.4 926.0,764.0 927.6,763.9 929.2,763.8 930.9,764.1 932.5,763.7 934.1,763.8 935.7,763.9 937.4,763.5 939.0,764.4 940.6,763.7 942.3,763.7 943.9,764.4 945.5,764.5 947.2,764.1 948.8,764.1 950.4,763.9 952.0,763.7 953.7,764.3 955.3,764.3" fill="none" stroke="#1d5bb4" stroke-width="2.5" stroke-linejoin="round" stroke-linecap="round"/>
<polyline points="570.4,764.0 572.0,763.6 573.6,764.2 575.2,764.1 576.9,764.4 578.5,763.7 580.1,763.7 581.7,764.2 583.3,764.1 584.9,763.7 586.6,764.1 588.2,763.8 589.8,764.2 591.4,763.5 593.0,763.6 594.6,764.3 596.2,763.8 597.9,763.7 599.5,764.2 601.1,764.0 602.7,763.5 604.3,763.9 605.9,764.0 607.5,763.5 609.2,764.0 610.8,763.5 612.4,763.7 614.0,763.4 615.6,763.5 617.2,764.3 618.9,763.7 620.5,764.3 622.1,763.7 623.7,763.9 625.3,764.2 626.9,764.0 628.5,763.4 630.2,763.9 631.8,763.9 633.4,763.4 635.0,763.4 636.6,764.1 638.2,763.8 639.9,763.4 641.5,763.7 643.1,763.4 644.7,764.0 646.3,763.7 647.9,763.3 649.5,764.0 651.2,763.3 652.8,763.5 654.4,763.2 656.0,763.9 657.6,763.3 659.2,763.7 660.8,763.3 662.5,763.6 664.1,763.8 665.7,763.7 667.3,763.6 668.9,763.6 670.5,763.6 672.2,763.7 673.8,763.2 675.4,763.6 677.0,763.3 678.8,763.7 680.6,763.5 682.4,762.4 684.1,762.2 685.9,762.5 687.7,762.1 689.5,761.3 691.0,761.4 692.5,761.0 694.0,759.8 695.5,759.1 697.0,758.7 698.5,758.4 700.0,757.1 701.6,756.7 703.2,756.1 704.9,756.1 706.5,755.5 708.1,754.8 709.8,754.5 711.4,753.7 713.0,753.5 714.8,754.7 716.6,754.9 718.4,755.1 720.2,756.3 722.0,756.3 723.5,756.7 725.1,757.0 726.6,757.6 728.1,758.2 729.6,758.7 731.2,759.9 732.7,759.8 734.4,759.7 736.2,760.1 737.9,760.4 739.6,759.8 741.4,760.3 743.1,759.9 744.8,760.1 746.5,760.1 748.3,760.4 750.0,760.3 751.7,760.2 753.4,760.8 755.1,760.5 756.8,760.8 758.5,761.6 760.2,761.4 761.8,761.8 763.5,761.6 765.2,762.4 766.9,762.3 768.6,762.2 770.3,763.1 772.0,762.9 773.6,762.2 775.3,761.5 776.9,760.8 778.5,760.3 780.2,760.2 781.8,759.1 783.4,758.6 785.1,758.2 786.7,757.7 788.3,756.9 789.9,756.7 791.6,755.5 793.2,755.0 794.8,754.4 796.4,753.5 798.1,752.9 799.7,752.2 801.3,752.1 803.0,750.9 804.6,750.8 806.3,749.7 808.0,749.5 809.7,748.9 811.3,748.0 813.0,747.9 814.7,747.5 816.3,747.2 818.0,746.5 819.6,746.7 821.3,746.3 823.0,746.3 824.6,746.6 826.3,746.4 827.9,745.2 829.6,745.5 831.2,745.4 832.8,744.7 834.5,743.9 836.1,744.4 837.7,743.6 839.4,743.8 841.0,743.4 842.5,742.5 843.9,741.8 845.4,740.1 846.9,740.0 848.3,738.7 849.8,737.8 851.2,737.2 852.7,736.6 854.4,735.8 856.0,736.0 857.7,736.1 859.4,735.6 861.1,735.5 862.7,735.0 864.4,735.5 865.9,735.5 867.3,736.6 868.8,737.3 870.3,737.4 871.8,739.1 873.2,739.0 874.7,740.5 876.0,741.4 877.4,742.4 878.7,743.4 880.0,743.9 881.3,744.9 882.7,745.8 884.0,747.4 885.3,747.5 886.6,748.6 888.0,750.5 889.3,751.3 890.8,752.0 892.2,753.0 893.7,753.3 895.2,754.4 896.7,754.7 898.1,755.9 899.6,755.9 901.2,756.4 902.8,756.7 904.4,757.1 906.0,757.0 907.6,757.4 909.2,757.9 910.7,757.5 912.3,757.5 913.9,757.5 915.5,758.5 917.1,758.3 918.7,758.4 920.4,758.7 922.1,758.5 923.8,758.7 925.5,758.9 927.2,759.1 928.9,759.9 930.5,759.4 932.2,759.4 933.9,760.4 935.6,760.3 937.3,759.9 939.0,760.7 940.7,760.9 942.3,761.0 943.9,761.3 945.6,761.1 947.2,761.0 948.8,761.7 950.4,761.7 952.1,761.9 953.7,761.5 955.3,762.0" fill="none" stroke="#c0282d" stroke-width="2.5" stroke-linejoin="round" stroke-linecap="round"/>
<rect x="749.3" y="910.7" width="744.3" height="584.5" rx="95" ry="95" fill="none" stroke="#169b48" stroke-width="4.6"/>
<text x="367.1" y="970.9" font-size="27.5" text-anchor="middle" font-weight="normal" fill="#111" textLength="257.2" lengthAdjust="spacingAndGlyphs" stroke="#111" stroke-width="0.55">Fluorescent profile</text>
<text x="13.8" y="970" font-size="22.5" text-anchor="start" font-weight="normal" fill="#111" textLength="11" lengthAdjust="spacingAndGlyphs" >F</text>
<line x1="89.5" y1="956.7" x2="89.5" y2="1419.3" stroke="#333" stroke-width="1.5"/>
<line x1="83.5" y1="1419.3" x2="675.3" y2="1419.3" stroke="#333" stroke-width="1.5"/>
<line x1="83.5" y1="1419.3" x2="89.5" y2="1419.3" stroke="#333" stroke-width="1.5"/>
<text x="73.5" y="1423.8" font-size="12.5" text-anchor="end" font-weight="normal" fill="#1a1a1a" stroke="#1a1a1a" stroke-width="0.25">0</text>
<line x1="83.5" y1="1342.54" x2="89.5" y2="1342.54" stroke="#333" stroke-width="1.5"/>
<text x="73.5" y="1347.04" font-size="12.5" text-anchor="end" font-weight="normal" fill="#1a1a1a" stroke="#1a1a1a" stroke-width="0.25">200</text>
<line x1="83.5" y1="1265.78" x2="89.5" y2="1265.78" stroke="#333" stroke-width="1.5"/>
<text x="73.5" y="1270.28" font-size="12.5" text-anchor="end" font-weight="normal" fill="#1a1a1a" stroke="#1a1a1a" stroke-width="0.25">400</text>
<line x1="83.5" y1="1189.02" x2="89.5" y2="1189.02" stroke="#333" stroke-width="1.5"/>
<text x="73.5" y="1193.52" font-size="12.5" text-anchor="end" font-weight="normal" fill="#1a1a1a" stroke="#1a1a1a" stroke-width="0.25">600</text>
<line x1="83.5" y1="1112.26" x2="89.5" y2="1112.26" stroke="#333" stroke-width="1.5"/>
<text x="73.5" y="1116.76" font-size="12.5" text-anchor="end" font-weight="normal" fill="#1a1a1a" stroke="#1a1a1a" stroke-width="0.25">800</text>
<line x1="83.5" y1="1035.5" x2="89.5" y2="1035.5" stroke="#333" stroke-width="1.5"/>
<text x="73.5" y="1040.0" font-size="12.5" text-anchor="end" font-weight="normal" fill="#1a1a1a" stroke="#1a1a1a" stroke-width="0.25">1000</text>
<line x1="83.5" y1="956.7" x2="89.5" y2="956.7" stroke="#333" stroke-width="1.5"/>
<text x="73.5" y="961.2" font-size="12.5" text-anchor="end" font-weight="normal" fill="#1a1a1a" stroke="#1a1a1a" stroke-width="0.25">1100</text>
<line x1="89.5" y1="1419.3" x2="89.5" y2="1425.3" stroke="#333" stroke-width="1.5"/>
<text x="89.5" y="1445.3" font-size="12.5" text-anchor="middle" font-weight="normal" fill="#1a1a1a" stroke="#1a1a1a" stroke-width="0.25">250</text>
<line x1="187.13333333333333" y1="1419.3" x2="187.13333333333333" y2="1425.3" stroke="#333" stroke-width="1.5"/>
<text x="187.13333333333333" y="1445.3" font-size="12.5" text-anchor="middle" font-weight="normal" fill="#1a1a1a" stroke="#1a1a1a" stroke-width="0.25">300</text>
<line x1="284.76666666666665" y1="1419.3" x2="284.76666666666665" y2="1425.3" stroke="#333" stroke-width="1.5"/>
<text x="284.76666666666665" y="1445.3" font-size="12.5" text-anchor="middle" font-weight="normal" fill="#1a1a1a" stroke="#1a1a1a" stroke-width="0.25">350</text>
<line x1="382.4" y1="1419.3" x2="382.4" y2="1425.3" stroke="#333" stroke-width="1.5"/>
<text x="382.4" y="1445.3" font-size="12.5" text-anchor="middle" font-weight="normal" fill="#1a1a1a" stroke="#1a1a1a" stroke-width="0.25">400</text>
<line x1="480.0333333333333" y1="1419.3" x2="480.0333333333333" y2="1425.3" stroke="#333" stroke-width="1.5"/>
<text x="480.0333333333333" y="1445.3" font-size="12.5" text-anchor="middle" font-weight="normal" fill="#1a1a1a" stroke="#1a1a1a" stroke-width="0.25">450</text>
<line x1="577.6666666666667" y1="1419.3" x2="577.6666666666667" y2="1425.3" stroke="#333" stroke-width="1.5"/>
<text x="577.6666666666667" y="1445.3" font-size="12.5" text-anchor="middle" font-weight="normal" fill="#1a1a1a" stroke="#1a1a1a" stroke-width="0.25">500</text>
<line x1="675.3" y1="1419.3" x2="675.3" y2="1425.3" stroke="#333" stroke-width="1.5"/>
<text x="675.3" y="1445.3" font-size="12.5" text-anchor="middle" font-weight="normal" fill="#1a1a1a" stroke="#1a1a1a" stroke-width="0.25">550</text>
<text x="377.9" y="1474.7" font-size="24" text-anchor="middle" font-weight="normal" fill="#111" textLength="34.3" lengthAdjust="spacingAndGlyphs" stroke="#111" stroke-width="0.7">nm</text>
<polyline points="89.0,1416.0 106.0,1409.0 114.0,1402.0 122.0,1380.0 130.0,1364.0 139.0,1350.0 146.0,1345.0 150.0,1354.0 160.0,1360.0 170.0,1365.0 175.0,1364.0 184.0,1350.0 197.0,1328.0 206.0,1326.0 211.0,1305.0 222.0,1302.0 229.0,1302.0 236.0,1291.0 244.0,1240.0 246.0,1220.0 252.0,1180.0 257.0,1150.0 262.0,1120.0 268.0,1084.0 272.0,1058.0 278.0,1036.0 282.4,1031.0 290.0,1042.0 294.0,1052.0 300.0,1066.0 307.0,1084.0 313.0,1120.0 320.0,1156.0 326.0,1186.0 330.0,1212.0 337.0,1244.0 344.0,1266.0 352.0,1290.0 364.0,1320.0 376.0,1335.0 389.0,1347.0 399.0,1356.0 415.0,1366.0 426.0,1369.0 438.0,1374.0 443.0,1381.0 463.0,1382.0 494.0,1380.0 511.0,1378.0 523.0,1379.0 535.0,1383.0 546.0,1389.0 566.0,1401.0 577.0,1407.0 585.0,1412.0 618.0,1413.0 672.0,1416.0" fill="none" stroke="#1d5bb4" stroke-width="3.0" stroke-linejoin="round" stroke-linecap="round"/>
<polyline points="89.0,1416.0 102.0,1405.0 112.0,1399.0 120.0,1378.0 131.0,1360.0 140.0,1349.0 147.0,1345.0 158.0,1350.0 174.0,1363.0 186.0,1351.0 192.0,1348.0 200.0,1339.0 205.0,1340.0 212.0,1348.0 218.0,1343.0 227.0,1339.0 238.0,1316.0 248.0,1300.0 256.0,1282.0 265.0,1270.0 270.0,1254.0 278.0,1241.0 285.0,1229.0 292.0,1235.0 300.0,1234.0 304.0,1237.0 308.0,1260.0 316.0,1284.0 330.0,1338.0 342.0,1356.0 360.0,1372.0 370.0,1381.0 382.0,1394.0 393.0,1399.0 401.0,1397.0 422.0,1390.0 440.0,1386.0 455.0,1386.0 465.0,1388.0 482.0,1384.0 496.0,1376.0 506.0,1372.0 517.0,1366.0 527.0,1364.0 542.0,1368.0 550.0,1374.0 558.0,1381.0 564.0,1391.0 575.0,1395.0 585.0,1401.0 597.0,1404.0 610.0,1406.0 639.0,1412.0 672.0,1415.0" fill="none" stroke="#c0282d" stroke-width="3.0" stroke-linejoin="round" stroke-linecap="round"/>
<text x="1151.8" y="971.7" font-size="27.5" text-anchor="middle" font-weight="normal" fill="#111" textLength="533.7" lengthAdjust="spacingAndGlyphs" stroke="#111" stroke-width="0.55">Total fluorescence metabolome profile</text>
<text x="786.5" y="970" font-size="23" text-anchor="start" font-weight="normal" fill="#111" >F</text>
<text x="799.5" y="975" font-size="27" text-anchor="start" font-weight="normal" fill="#111" >*</text>
<line x1="857.9" y1="956.3" x2="857.9" y2="1419.5" stroke="#555" stroke-width="1.4"/>
<line x1="851.9" y1="1419.5" x2="1443.3" y2="1419.5" stroke="#555" stroke-width="1.4"/>
<line x1="851.9" y1="1419.5" x2="857.9" y2="1419.5" stroke="#555" stroke-width="1.4"/>
<text x="841.9" y="1424.0" font-size="12.5" text-anchor="end" font-weight="normal" fill="#1a1a1a" stroke="#1a1a1a" stroke-width="0.25">0</text>
<line x1="851.9" y1="1342.3" x2="857.9" y2="1342.3" stroke="#555" stroke-width="1.4"/>
<text x="841.9" y="1346.8" font-size="12.5" text-anchor="end" font-weight="normal" fill="#1a1a1a" stroke="#1a1a1a" stroke-width="0.25">200</text>
<line x1="851.9" y1="1265.1" x2="857.9" y2="1265.1" stroke="#555" stroke-width="1.4"/>
<text x="841.9" y="1269.6" font-size="12.5" text-anchor="end" font-weight="normal" fill="#1a1a1a" stroke="#1a1a1a" stroke-width="0.25">400</text>
<line x1="851.9" y1="1187.9" x2="857.9" y2="1187.9" stroke="#555" stroke-width="1.4"/>
<text x="841.9" y="1192.4" font-size="12.5" text-anchor="end" font-weight="normal" fill="#1a1a1a" stroke="#1a1a1a" stroke-width="0.25">600</text>
<line x1="851.9" y1="1110.7" x2="857.9" y2="1110.7" stroke="#555" stroke-width="1.4"/>
<text x="841.9" y="1115.2" font-size="12.5" text-anchor="end" font-weight="normal" fill="#1a1a1a" stroke="#1a1a1a" stroke-width="0.25">800</text>
<line x1="851.9" y1="1033.5" x2="857.9" y2="1033.5" stroke="#555" stroke-width="1.4"/>
<text x="841.9" y="1038.0" font-size="12.5" text-anchor="end" font-weight="normal" fill="#1a1a1a" stroke="#1a1a1a" stroke-width="0.25">1000</text>
<line x1="851.9" y1="956.3" x2="857.9" y2="956.3" stroke="#555" stroke-width="1.4"/>
<text x="841.9" y="960.8" font-size="12.5" text-anchor="end" font-weight="normal" fill="#1a1a1a" stroke="#1a1a1a" stroke-width="0.25">1200</text>
<line x1="857.9" y1="1419.5" x2="857.9" y2="1425.5" stroke="#555" stroke-width="1.4"/>
<text x="857.9" y="1445.5" font-size="12.5" text-anchor="middle" font-weight="normal" fill="#1a1a1a" stroke="#1a1a1a" stroke-width="0.25">250</text>
<line x1="955.4666666666667" y1="1419.5" x2="955.4666666666667" y2="1425.5" stroke="#555" stroke-width="1.4"/>
<text x="955.4666666666667" y="1445.5" font-size="12.5" text-anchor="middle" font-weight="normal" fill="#1a1a1a" stroke="#1a1a1a" stroke-width="0.25">300</text>
<line x1="1053.0333333333333" y1="1419.5" x2="1053.0333333333333" y2="1425.5" stroke="#555" stroke-width="1.4"/>
<text x="1053.0333333333333" y="1445.5" font-size="12.5" text-anchor="middle" font-weight="normal" fill="#1a1a1a" stroke="#1a1a1a" stroke-width="0.25">350</text>
<line x1="1150.6" y1="1419.5" x2="1150.6" y2="1425.5" stroke="#555" stroke-width="1.4"/>
<text x="1150.6" y="1445.5" font-size="12.5" text-anchor="middle" font-weight="normal" fill="#1a1a1a" stroke="#1a1a1a" stroke-width="0.25">400</text>
<line x1="1248.1666666666665" y1="1419.5" x2="1248.1666666666665" y2="1425.5" stroke="#555" stroke-width="1.4"/>
<text x="1248.1666666666665" y="1445.5" font-size="12.5" text-anchor="middle" font-weight="normal" fill="#1a1a1a" stroke="#1a1a1a" stroke-width="0.25">450</text>
<line x1="1345.7333333333333" y1="1419.5" x2="1345.7333333333333" y2="1425.5" stroke="#555" stroke-width="1.4"/>
<text x="1345.7333333333333" y="1445.5" font-size="12.5" text-anchor="middle" font-weight="normal" fill="#1a1a1a" stroke="#1a1a1a" stroke-width="0.25">500</text>
<line x1="1443.3" y1="1419.5" x2="1443.3" y2="1425.5" stroke="#555" stroke-width="1.4"/>
<text x="1443.3" y="1445.5" font-size="12.5" text-anchor="middle" font-weight="normal" fill="#1a1a1a" stroke="#1a1a1a" stroke-width="0.25">550</text>
<text x="1147.7" y="1474.7" font-size="24" text-anchor="middle" font-weight="normal" fill="#111" textLength="34.3" lengthAdjust="spacingAndGlyphs" stroke="#111" stroke-width="0.7">nm</text>
<polyline points="858.0,1406.0 858.4,1405.1 858.8,1402.2 859.2,1401.7 859.6,1399.3 860.0,1398.9 860.4,1396.0 860.8,1395.6 861.2,1393.8 861.6,1392.5 862.0,1391.1 862.4,1388.5 862.8,1387.1 863.2,1386.0 863.6,1383.9 864.0,1382.3 864.4,1380.7 864.8,1380.0 865.2,1378.4 865.6,1376.8 866.0,1374.4 866.4,1373.8 866.8,1371.7 867.2,1369.7 867.6,1368.5 868.0,1366.9 868.4,1364.8 868.7,1363.8 869.1,1361.9 869.5,1360.6 869.8,1359.4 870.2,1357.4 870.6,1355.4 870.9,1354.5 871.3,1353.0 871.7,1350.7 872.1,1349.7 872.4,1346.7 872.8,1345.3 873.2,1343.7 873.5,1343.1 873.9,1341.2 874.3,1339.6 874.6,1337.3 875.0,1336.0 875.4,1335.0 875.7,1332.3 876.1,1330.7 876.4,1329.1 876.8,1328.1 877.1,1327.0 877.5,1325.1 877.9,1323.3 878.2,1321.9 878.6,1319.8 878.9,1319.3 879.3,1316.9 879.6,1315.2 880.0,1313.7 880.2,1312.8 880.4,1310.5 880.5,1309.7 880.7,1307.3 880.9,1305.8 881.1,1303.7 881.2,1303.2 881.4,1301.5 881.6,1299.4 881.8,1297.3 881.9,1296.2 882.1,1294.4 882.3,1293.4 882.5,1292.0 882.6,1290.1 882.8,1287.8 883.0,1285.9 883.2,1285.4 883.4,1283.9 883.5,1281.2 883.7,1280.0 883.9,1278.4 884.1,1277.5 884.2,1274.5 884.4,1272.9 884.6,1272.4 884.8,1270.4 884.9,1268.7 885.1,1267.5 885.3,1265.6 885.5,1264.1 885.6,1261.9 885.8,1260.0 886.0,1258.3 886.2,1257.1 886.4,1256.0 886.6,1254.0 886.8,1252.3 887.0,1251.0 887.2,1249.5 887.5,1247.8 887.7,1245.7 887.9,1244.8 888.1,1243.2 888.3,1241.7 888.5,1240.0 888.7,1237.2 888.9,1236.5 889.1,1234.4 889.3,1232.8 889.5,1231.4 889.8,1229.3 890.0,1227.8 890.2,1227.2 890.4,1224.6 890.6,1223.8 890.8,1221.9 891.0,1219.7 891.2,1218.1 891.3,1216.9 891.5,1215.5 891.7,1213.3 891.9,1211.3 892.0,1209.9 892.2,1209.2 892.4,1207.4 892.5,1205.0 892.7,1204.4 892.9,1202.4 893.0,1200.5 893.2,1199.6 893.4,1196.9 893.6,1195.3 893.7,1194.0 893.9,1193.0 894.1,1191.1 894.2,1189.4 894.4,1188.4 894.6,1186.0 894.8,1185.0 894.9,1182.3 895.1,1181.8 895.3,1179.3 895.4,1178.4 895.6,1177.0 895.8,1175.1 896.0,1173.4 896.1,1171.8 896.3,1170.4 896.5,1168.3 896.6,1166.5 896.8,1165.3 897.0,1163.7 897.1,1161.5 897.3,1160.5 897.5,1158.8 897.7,1156.7 897.8,1155.9 898.0,1154.4 898.2,1152.2 898.4,1151.3 898.5,1149.8 898.7,1147.8 898.9,1145.8 899.1,1144.0 899.2,1142.2 899.4,1140.7 899.6,1140.1 899.8,1137.2 899.9,1136.8 900.1,1134.9 900.3,1133.4 900.5,1130.8 900.6,1129.9 900.8,1127.7 901.0,1126.7 901.2,1125.3 901.4,1123.6 901.5,1121.7 901.7,1120.6 901.9,1118.0 902.1,1116.3 902.2,1115.7 902.4,1112.9 902.6,1111.8 902.8,1110.2 902.9,1109.2 903.1,1106.9 903.3,1105.6 903.5,1103.9 903.6,1102.2 903.8,1100.6 904.0,1099.0 905.0,1097.7 906.0,1096.1 907.0,1094.7 908.0,1094.0 909.0,1092.7 909.3,1090.1 909.5,1089.4 909.8,1086.6 910.0,1085.4 910.3,1084.6 910.6,1082.0 910.8,1081.1 911.1,1080.0 911.3,1077.8 911.6,1076.0 911.9,1073.8 912.1,1072.8 912.4,1071.2 912.6,1070.1 912.9,1068.0 913.1,1066.9 913.4,1064.8 913.7,1063.5 913.9,1062.1 914.2,1059.7 914.4,1059.2 914.7,1056.9 915.0,1055.3 915.2,1054.4 915.5,1052.3 915.7,1050.6 916.0,1048.6 916.4,1050.2 916.9,1052.5 917.3,1053.7 917.7,1055.5 918.1,1057.1 918.6,1058.7 919.0,1059.8 919.4,1062.1 919.9,1063.1 920.3,1064.3 920.7,1066.8 921.1,1068.4 921.6,1068.9 922.0,1071.5 922.4,1072.8 922.9,1073.8 923.3,1075.8 923.7,1077.9 924.1,1078.4 924.6,1080.7 925.0,1081.6 925.4,1083.1 925.9,1085.7 926.3,1087.4 926.8,1088.4 927.2,1090.2 927.7,1091.2 928.1,1092.8 928.6,1094.6 929.0,1096.4 929.4,1097.8 929.9,1099.1 930.3,1100.8 930.8,1102.1 931.2,1104.2 931.7,1105.8 932.1,1107.3 932.6,1108.2 933.0,1109.8 933.5,1112.3 933.9,1113.0 934.4,1115.0 934.9,1115.8 935.3,1117.5 935.8,1119.2 936.3,1121.4 936.7,1122.4 937.2,1124.6 937.7,1125.4 938.1,1127.9 938.6,1129.5 939.1,1130.5 939.5,1132.0 940.0,1133.7 940.4,1135.6 940.8,1136.8 941.2,1138.5 941.5,1140.9 941.9,1142.7 942.3,1143.2 942.7,1145.3 943.1,1147.1 943.5,1149.2 943.8,1150.2 944.2,1151.8 944.6,1153.8 945.0,1155.4 946.2,1153.9 947.4,1152.4 948.6,1151.2 949.8,1148.8 951.0,1148.4 951.3,1149.3 951.5,1151.1 951.8,1152.9 952.1,1154.7 952.3,1156.5 952.6,1158.1 952.9,1159.4 953.1,1161.1 953.4,1163.2 953.7,1165.3 953.9,1166.2 954.2,1167.3 954.5,1170.2 954.7,1171.9 955.0,1173.5 956.0,1174.5 957.0,1175.6 958.0,1176.4 958.6,1175.9 959.1,1173.6 959.7,1171.5 960.2,1170.5 960.8,1168.0 961.3,1166.8 961.9,1165.5 962.4,1164.1 963.0,1161.8 963.3,1159.9 963.5,1158.5 963.8,1157.5 964.1,1154.9 964.4,1153.3 964.6,1152.0 964.9,1151.2 965.2,1149.4 965.5,1147.9 965.7,1145.0 966.0,1144.0 968.0,1143.5 970.0,1144.1 970.4,1146.0 970.9,1147.2 971.3,1149.1 971.8,1150.8 972.2,1152.1 972.6,1153.6 973.1,1155.0 973.5,1157.3 973.9,1159.3 974.4,1160.9 974.8,1162.5 975.2,1164.0 975.7,1165.3 976.1,1166.7 976.6,1167.8 977.0,1170.4 977.3,1171.2 977.6,1173.8 977.9,1175.4 978.1,1176.2 978.4,1178.7 978.7,1180.1 979.0,1181.8 979.3,1182.4 979.6,1184.3 979.9,1185.7 980.1,1188.4 980.4,1189.1 980.7,1191.0 981.0,1193.0 981.3,1194.1 981.6,1196.1 981.9,1197.7 982.1,1199.0 982.4,1201.4 982.7,1202.6 983.0,1204.3 983.5,1205.9 983.9,1207.3 984.4,1208.3 984.9,1210.9 985.4,1212.6 985.8,1213.0 986.3,1214.9 986.8,1216.3 987.2,1217.8 987.7,1220.0 988.2,1221.4 988.6,1222.5 989.1,1224.6 989.6,1226.5 990.1,1227.3 990.5,1229.6 991.0,1231.2 992.6,1232.3 994.2,1233.3 995.8,1233.9 997.4,1234.0 999.0,1234.4 999.4,1233.2 999.8,1231.3 1000.2,1230.7 1000.6,1228.4 1001.0,1227.0 1001.3,1225.7 1001.7,1223.7 1002.1,1222.8 1002.5,1220.7 1002.9,1219.0 1003.3,1216.8 1003.7,1215.3 1004.1,1214.4 1004.5,1212.4 1004.9,1211.0 1005.3,1209.8 1005.7,1207.9 1006.0,1206.5 1006.4,1204.2 1006.8,1202.2 1007.2,1200.9 1007.6,1200.2 1008.0,1197.6 1008.3,1195.9 1008.7,1194.3 1009.0,1194.0 1009.4,1191.3 1009.7,1189.5 1010.1,1188.4 1010.4,1186.4 1010.7,1185.8 1011.1,1184.1 1011.4,1182.2 1011.8,1181.0 1012.1,1178.5 1012.5,1178.0 1012.8,1176.2 1013.1,1174.8 1013.5,1172.4 1013.8,1171.9 1014.2,1170.4 1014.5,1168.1 1014.9,1166.3 1015.2,1165.0 1015.5,1163.7 1015.9,1161.8 1016.2,1160.3 1016.6,1159.3 1016.9,1157.4 1017.3,1155.4 1017.6,1154.6 1017.9,1152.8 1018.3,1150.2 1018.6,1149.3 1019.0,1147.4 1019.3,1145.9 1019.7,1144.4 1020.0,1143.5 1020.4,1141.6 1020.9,1139.5 1021.3,1137.7 1021.7,1136.2 1022.2,1135.0 1022.6,1133.7 1023.0,1132.0 1023.5,1130.4 1023.9,1129.0 1024.3,1127.1 1024.8,1126.4 1025.2,1123.8 1025.7,1122.5 1026.1,1121.3 1026.5,1120.0 1027.0,1117.8 1027.4,1116.6 1027.8,1114.5 1028.3,1112.6 1028.7,1112.4 1029.1,1109.5 1029.6,1108.9 1030.0,1106.3 1030.4,1105.2 1030.7,1103.9 1031.1,1102.9 1031.5,1101.2 1031.8,1098.9 1032.2,1096.9 1032.6,1096.4 1032.9,1094.8 1033.3,1093.5 1033.7,1090.8 1034.0,1090.0 1034.4,1088.4 1034.8,1087.2 1035.1,1085.6 1035.5,1083.9 1035.9,1082.4 1036.2,1079.8 1036.6,1079.5 1037.0,1077.4 1037.3,1076.2 1037.7,1073.6 1038.1,1072.6 1038.4,1071.5 1038.8,1070.1 1039.2,1068.0 1039.5,1066.8 1039.9,1064.0 1040.3,1062.6 1040.6,1061.2 1041.0,1060.5 1041.3,1058.7 1041.7,1056.6 1042.0,1055.7 1042.3,1053.5 1042.7,1051.4 1043.0,1050.9 1043.3,1049.0 1043.7,1047.7 1044.0,1045.8 1044.3,1043.8 1044.7,1042.7 1045.0,1040.0 1045.3,1038.2 1045.7,1036.9 1046.0,1036.3 1046.3,1033.4 1046.7,1032.7 1047.0,1030.8 1047.3,1028.6 1047.7,1027.1 1048.0,1026.2 1048.3,1024.1 1048.7,1023.2 1049.0,1020.4 1049.9,1019.7 1050.8,1018.7 1051.6,1016.5 1052.5,1015.2 1053.4,1014.2 1054.2,1012.3 1055.1,1011.6 1056.0,1010.6 1057.8,1010.0 1059.5,1010.0 1061.2,1011.3 1063.0,1010.4 1064.3,1012.7 1065.7,1013.2 1067.0,1014.9 1068.3,1015.5 1069.7,1017.5 1071.0,1018.2 1071.3,1019.7 1071.6,1020.6 1071.9,1022.9 1072.2,1024.1 1072.5,1026.3 1072.8,1027.4 1073.1,1028.9 1073.4,1030.3 1073.7,1032.1 1074.0,1033.5 1074.3,1035.4 1074.6,1037.3 1074.9,1039.4 1075.2,1040.9 1075.5,1041.9 1075.8,1044.3 1076.2,1045.1 1076.5,1046.8 1076.8,1048.6 1077.1,1050.3 1077.4,1051.7 1077.7,1053.6 1078.0,1054.5 1078.3,1056.1 1078.6,1057.9 1078.9,1059.7 1079.2,1061.0 1079.5,1063.1 1079.8,1064.0 1080.1,1066.1 1080.4,1067.7 1080.7,1069.5 1081.0,1070.5 1081.2,1072.8 1081.3,1074.2 1081.5,1076.4 1081.7,1076.9 1081.8,1078.9 1082.0,1081.0 1082.1,1082.8 1082.3,1084.3 1082.5,1086.0 1082.6,1087.0 1082.8,1088.3 1083.0,1089.9 1083.1,1092.1 1083.3,1093.7 1083.4,1095.0 1083.6,1096.2 1083.8,1098.8 1083.9,1099.6 1084.1,1101.1 1084.3,1103.6 1084.4,1105.1 1084.6,1106.5 1084.7,1108.3 1084.9,1109.7 1085.1,1111.3 1085.2,1112.6 1085.4,1113.9 1085.6,1116.5 1085.7,1117.0 1085.9,1119.5 1086.0,1120.5 1086.2,1122.7 1086.4,1124.5 1086.5,1126.0 1086.7,1126.5 1086.9,1129.3 1087.0,1130.0 1087.2,1131.6 1087.3,1134.3 1087.5,1135.7 1087.7,1136.3 1087.8,1138.9 1088.0,1139.7 1088.2,1141.8 1088.3,1143.7 1088.5,1144.2 1088.6,1146.0 1088.8,1147.5 1089.0,1149.2 1089.1,1151.9 1089.3,1152.2 1089.5,1154.3 1089.6,1156.6 1089.8,1157.1 1089.9,1159.3 1090.1,1161.4 1090.3,1163.2 1090.4,1164.6 1090.6,1165.2 1090.7,1166.8 1090.9,1169.4 1091.1,1170.6 1091.2,1172.2 1091.4,1174.1 1091.5,1175.9 1091.7,1176.8 1091.9,1179.4 1092.0,1180.0 1092.2,1182.5 1092.4,1183.0 1092.5,1184.5 1092.7,1186.9 1092.8,1188.7 1093.0,1190.2 1093.3,1191.0 1093.7,1193.8 1094.0,1195.3 1094.4,1196.9 1094.7,1198.2 1095.1,1198.8 1095.4,1201.0 1095.8,1202.2 1096.1,1203.8 1096.5,1205.7 1096.8,1207.8 1097.2,1209.1 1097.5,1211.2 1097.8,1211.9 1098.2,1213.1 1098.5,1215.7 1098.9,1217.3 1099.2,1218.4 1099.6,1219.6 1099.9,1221.7 1100.3,1222.8 1100.6,1224.6 1101.0,1226.4 1101.3,1228.2 1101.7,1229.8 1102.0,1230.4 1102.4,1232.4 1102.7,1234.2 1103.1,1235.4 1103.4,1236.7 1103.8,1238.5 1104.1,1240.3 1104.5,1242.2 1104.9,1244.2 1105.2,1244.7 1105.6,1246.8 1105.9,1247.9 1106.3,1249.3 1106.6,1251.1 1107.0,1252.9 1107.4,1255.1 1107.7,1255.9 1108.1,1258.3 1108.4,1259.7 1108.8,1260.7 1109.1,1263.0 1109.5,1263.7 1109.9,1264.9 1110.2,1267.1 1110.6,1268.9 1110.9,1270.5 1111.3,1271.2 1111.6,1272.7 1112.0,1275.3 1112.6,1277.2 1113.2,1278.1 1113.7,1280.1 1114.3,1280.9 1114.9,1282.4 1115.5,1284.4 1116.1,1286.7 1116.6,1287.1 1117.2,1289.3 1117.8,1291.1 1118.4,1291.7 1118.9,1294.4 1119.5,1295.1 1120.1,1297.6 1120.7,1298.8 1121.3,1299.6 1121.8,1301.4 1122.4,1303.3 1123.0,1304.4 1123.7,1306.8 1124.4,1307.9 1125.1,1309.0 1125.8,1310.6 1126.5,1312.8 1127.2,1313.9 1127.9,1315.5 1128.6,1316.6 1129.3,1318.2 1130.0,1319.6 1130.7,1321.4 1131.4,1322.5 1132.1,1323.8 1132.8,1326.6 1133.5,1328.2 1134.2,1328.4 1134.9,1331.0 1135.6,1331.7 1136.3,1333.5 1137.0,1335.0 1137.8,1335.8 1138.6,1337.6 1139.4,1339.1 1140.2,1340.7 1141.0,1342.1 1141.8,1343.2 1142.6,1344.8 1143.4,1345.7 1144.2,1347.9 1145.0,1349.1 1145.8,1350.0 1146.6,1351.7 1147.4,1353.2 1148.2,1354.6 1149.0,1355.6 1150.0,1357.3 1151.0,1358.7 1152.0,1360.7 1153.0,1361.8 1154.0,1363.0 1155.0,1363.8 1156.0,1365.4 1157.0,1366.4 1158.0,1368.1 1159.0,1369.7 1160.0,1371.1 1161.0,1372.6 1162.8,1372.6 1164.6,1372.8 1166.4,1372.5 1168.2,1372.4 1170.0,1372.8 1171.6,1373.4 1173.2,1373.8 1174.8,1374.2 1176.4,1373.9 1178.0,1375.7 1179.6,1375.2 1181.2,1375.6 1182.8,1376.7 1184.4,1376.4 1186.0,1377.4 1187.5,1375.8 1189.0,1375.8 1190.5,1374.5 1192.0,1374.5 1193.5,1374.3 1195.0,1372.9 1196.5,1372.8 1198.0,1372.3 1199.8,1371.5 1201.5,1370.8 1203.2,1371.2 1205.0,1371.0 1206.8,1370.7 1208.5,1370.4 1210.2,1369.9 1212.0,1368.8 1213.8,1369.7 1215.5,1370.2 1217.2,1370.1 1219.0,1371.1 1220.8,1370.4 1222.5,1371.6 1224.2,1371.9 1226.0,1371.6 1227.7,1371.7 1229.5,1372.6 1231.2,1372.0 1232.9,1372.5 1234.6,1373.5 1236.4,1373.4 1238.1,1373.1 1239.8,1373.4 1241.5,1373.3 1243.3,1374.2 1245.0,1374.1 1246.6,1374.0 1248.3,1373.3 1249.9,1374.1 1251.5,1372.9 1253.2,1373.4 1254.8,1373.6 1256.5,1373.3 1258.1,1371.9 1259.7,1372.4 1261.4,1372.5 1263.0,1371.9 1264.6,1371.3 1266.2,1370.9 1267.8,1370.8 1269.3,1370.9 1270.9,1370.4 1272.5,1370.5 1274.1,1369.3 1275.7,1369.6 1277.2,1369.7 1278.8,1368.4 1280.4,1368.2 1282.0,1367.8 1283.5,1366.4 1285.0,1365.6 1286.5,1365.4 1288.0,1363.7 1289.5,1362.7 1291.0,1362.5 1292.7,1361.3 1294.4,1361.8 1296.1,1361.6 1297.9,1361.8 1299.6,1361.5 1301.3,1362.3 1303.0,1361.7 1304.3,1363.2 1305.5,1363.5 1306.8,1365.5 1308.1,1365.5 1309.4,1367.4 1310.6,1367.5 1311.9,1368.9 1313.2,1370.1 1314.5,1370.4 1315.7,1372.1 1317.0,1373.2 1318.1,1374.0 1319.3,1375.6 1320.4,1376.5 1321.6,1376.9 1322.7,1379.1 1323.9,1380.5 1325.0,1380.5 1326.1,1381.7 1327.3,1383.4 1328.4,1384.6 1329.6,1385.5 1330.7,1386.3 1331.9,1387.8 1333.0,1388.8 1334.4,1389.9 1335.8,1391.4 1337.2,1391.6 1338.6,1393.3 1340.0,1394.1 1341.4,1394.0 1342.8,1395.3 1344.2,1395.7 1345.6,1396.6 1347.0,1398.1 1348.7,1397.9 1350.3,1399.4 1352.0,1399.8 1353.7,1400.7 1355.3,1400.9 1357.0,1401.5 1358.6,1401.0 1360.3,1402.3 1361.9,1401.5 1363.6,1402.7 1365.2,1403.0 1366.9,1403.1 1368.5,1403.4 1370.1,1402.9 1371.8,1404.0 1373.4,1403.5 1375.1,1403.8 1376.7,1403.9 1378.4,1405.1 1380.0,1405.4 1381.6,1405.1 1383.3,1404.8 1384.9,1405.1 1386.6,1406.3 1388.2,1406.3 1389.9,1406.0 1391.5,1407.1 1393.1,1406.8 1394.8,1406.3 1396.4,1407.8 1398.1,1407.1 1399.7,1407.5 1401.4,1408.3 1403.0,1408.6 1404.6,1407.9 1406.2,1409.0 1407.8,1408.3 1409.4,1408.2 1411.0,1408.5 1412.7,1408.8 1414.3,1409.6 1415.9,1409.4 1417.5,1410.4 1419.1,1410.0 1420.7,1409.8 1422.3,1410.6 1423.9,1410.3 1425.5,1410.4 1427.1,1411.9 1428.7,1410.9 1430.3,1411.2 1432.0,1411.6 1433.6,1411.6 1435.2,1412.3 1436.8,1412.8 1438.4,1412.6 1440.0,1413.0" fill="none" stroke="#c0282d" stroke-width="2.6" stroke-linejoin="round" stroke-linecap="round"/>
<polyline points="858.0,1408.0 858.6,1406.3 859.1,1404.9 859.7,1403.3 860.2,1401.8 860.8,1400.3 861.4,1399.1 861.9,1397.0 862.5,1396.0 863.0,1393.6 863.6,1392.5 864.2,1391.0 864.7,1389.3 865.3,1388.6 865.8,1386.5 866.4,1385.6 867.0,1384.3 867.5,1381.8 868.1,1381.2 868.6,1379.6 869.2,1377.8 869.8,1375.4 870.3,1374.5 870.9,1373.2 871.4,1371.2 872.0,1369.6 872.4,1368.1 872.8,1366.4 873.1,1365.5 873.5,1363.3 873.9,1361.8 874.3,1360.5 874.7,1359.3 875.0,1356.8 875.4,1354.8 875.8,1354.5 876.2,1352.7 876.6,1351.0 877.0,1349.0 877.3,1347.0 877.7,1345.2 878.1,1343.8 878.5,1342.4 878.9,1340.2 879.2,1339.5 879.6,1337.9 880.0,1335.3 880.3,1334.9 880.7,1332.8 881.0,1331.9 881.3,1329.7 881.7,1328.6 882.0,1326.5 882.3,1325.2 882.7,1323.4 883.0,1321.2 883.3,1319.8 883.7,1318.3 884.0,1317.0 884.3,1315.4 884.7,1314.1 885.0,1312.7 885.3,1310.7 885.7,1309.0 886.0,1307.7 886.3,1306.8 886.7,1305.0 887.0,1303.2 887.2,1301.8 887.5,1299.4 887.7,1297.6 887.9,1296.0 888.1,1294.4 888.4,1292.6 888.6,1291.9 888.8,1290.7 889.0,1287.9 889.3,1287.1 889.5,1285.9 889.7,1284.0 889.9,1281.5 890.2,1280.6 890.4,1278.5 890.6,1276.7 890.8,1274.9 891.1,1274.0 891.3,1272.9 891.5,1270.2 891.7,1268.6 892.0,1267.4 892.2,1265.3 892.4,1264.2 892.6,1263.0 892.9,1261.0 893.1,1258.8 893.3,1257.2 893.5,1255.8 893.8,1254.8 894.0,1253.6 894.4,1251.4 894.8,1249.3 895.2,1247.8 895.6,1246.5 896.1,1244.5 896.5,1242.9 896.9,1241.8 897.3,1240.8 897.7,1238.3 898.1,1237.7 898.5,1236.1 898.9,1233.8 899.4,1232.0 899.8,1230.3 900.2,1229.4 900.6,1228.0 901.0,1226.5 901.3,1224.0 901.6,1222.6 901.9,1220.5 902.2,1219.2 902.5,1217.6 902.8,1215.7 903.0,1214.0 903.3,1213.7 903.6,1211.1 903.9,1209.7 904.2,1208.2 904.5,1206.5 904.8,1205.0 905.1,1203.3 905.4,1201.6 905.7,1199.4 906.0,1198.6 906.2,1197.0 906.5,1195.4 906.8,1193.2 907.1,1191.8 907.4,1190.7 907.7,1188.9 908.0,1186.4 908.6,1185.2 909.3,1183.4 909.9,1182.7 910.5,1180.7 911.2,1179.1 911.8,1177.3 912.5,1176.1 913.1,1174.9 913.7,1173.3 914.4,1171.2 915.0,1169.9 915.4,1171.7 915.9,1172.5 916.3,1175.2 916.8,1175.6 917.2,1178.0 917.7,1178.8 918.1,1181.5 918.6,1182.7 919.0,1183.6 919.4,1185.6 919.9,1187.6 920.3,1189.2 920.8,1190.5 921.2,1192.0 921.7,1193.7 922.1,1195.5 922.6,1196.5 923.0,1198.2 923.8,1199.8 924.7,1200.8 925.5,1201.9 926.3,1203.8 927.2,1204.9 928.0,1206.8 928.8,1208.3 929.7,1209.9 930.5,1210.2 931.3,1211.5 932.2,1214.2 933.0,1215.3 934.2,1217.0 935.3,1218.1 936.5,1219.6 937.7,1219.9 938.8,1221.2 940.0,1223.2 940.8,1224.9 941.6,1225.6 942.3,1228.3 943.1,1228.8 943.9,1230.4 944.7,1232.2 945.4,1233.4 946.2,1234.9 947.0,1236.4 948.8,1235.8 950.5,1235.5 952.2,1235.8 954.0,1235.4 954.8,1236.9 955.7,1237.9 956.5,1239.9 957.3,1240.5 958.2,1243.0 959.0,1243.9 959.5,1241.9 960.0,1240.7 960.5,1238.9 961.0,1238.1 961.5,1236.0 962.0,1234.0 962.5,1232.7 963.0,1231.0 963.5,1230.6 964.0,1228.3 964.5,1227.3 965.0,1225.5 965.5,1223.7 966.0,1222.5 966.5,1220.7 967.0,1218.5 967.5,1218.2 968.0,1215.8 969.6,1217.0 971.2,1217.5 972.8,1219.0 974.4,1218.7 976.0,1219.4 976.3,1220.9 976.7,1223.0 977.0,1225.2 977.3,1226.2 977.7,1228.5 978.0,1228.9 978.3,1231.7 978.7,1232.1 979.0,1234.7 979.3,1235.3 979.7,1237.4 980.0,1239.0 980.3,1241.1 980.7,1241.9 981.0,1244.1 981.3,1244.5 981.7,1247.3 982.0,1248.3 982.3,1249.9 982.7,1252.1 983.0,1252.7 984.6,1253.9 986.1,1254.5 987.7,1254.9 989.3,1255.4 990.9,1256.5 992.4,1257.0 994.0,1258.2 995.2,1256.7 996.3,1255.1 997.5,1254.8 998.7,1253.9 999.8,1252.3 1001.0,1250.7 1001.6,1249.2 1002.2,1248.6 1002.9,1246.4 1003.5,1245.3 1004.1,1242.9 1004.8,1242.4 1005.4,1241.1 1006.0,1238.7 1006.6,1237.2 1007.2,1236.2 1007.9,1235.1 1008.5,1233.4 1009.1,1230.8 1009.8,1229.5 1010.4,1229.0 1011.0,1226.9 1011.6,1226.1 1012.2,1223.9 1012.9,1223.0 1013.5,1220.6 1014.1,1220.2 1014.8,1218.0 1015.4,1215.8 1016.0,1214.6 1016.5,1212.9 1017.0,1211.8 1017.5,1211.0 1018.0,1209.4 1018.5,1207.8 1019.0,1205.5 1019.5,1204.4 1020.0,1202.8 1020.5,1201.4 1021.0,1200.0 1021.5,1198.3 1022.0,1196.6 1022.5,1194.4 1023.0,1192.7 1023.5,1191.4 1024.0,1189.7 1024.3,1188.7 1024.6,1186.3 1024.9,1184.7 1025.2,1183.8 1025.6,1181.3 1025.9,1179.7 1026.2,1178.0 1026.5,1176.4 1026.8,1174.9 1027.1,1174.1 1027.4,1171.8 1027.7,1170.0 1028.0,1168.9 1028.3,1167.1 1028.7,1165.0 1029.0,1163.5 1029.3,1162.1 1029.6,1160.7 1029.9,1158.7 1030.2,1157.5 1030.5,1155.9 1030.8,1154.9 1031.1,1152.9 1031.4,1150.8 1031.8,1149.1 1032.1,1147.4 1032.4,1146.1 1032.7,1145.3 1033.0,1143.7 1033.2,1140.9 1033.4,1140.0 1033.7,1138.5 1033.9,1137.2 1034.1,1135.3 1034.3,1133.5 1034.6,1131.1 1034.8,1129.8 1035.0,1129.1 1035.2,1127.5 1035.4,1125.8 1035.7,1123.4 1035.9,1122.5 1036.1,1120.8 1036.3,1118.7 1036.6,1117.0 1036.8,1115.6 1037.0,1114.1 1037.2,1111.7 1037.4,1110.1 1037.7,1109.9 1037.9,1107.4 1038.1,1105.8 1038.3,1104.5 1038.6,1102.8 1038.8,1101.4 1039.0,1099.5 1039.2,1097.2 1039.4,1095.6 1039.7,1094.3 1039.9,1092.9 1040.1,1092.1 1040.3,1089.8 1040.6,1087.7 1040.8,1087.1 1041.0,1084.7 1041.3,1083.3 1041.7,1082.0 1042.0,1080.5 1042.4,1078.3 1042.7,1076.9 1043.1,1074.8 1043.4,1074.5 1043.8,1072.8 1044.1,1071.1 1044.4,1068.6 1044.8,1067.6 1045.1,1065.8 1045.5,1063.8 1045.8,1062.3 1046.2,1061.6 1046.5,1059.7 1046.8,1058.0 1047.2,1055.8 1047.5,1054.8 1047.9,1053.7 1048.2,1051.1 1048.6,1049.6 1048.9,1049.0 1049.2,1046.4 1049.6,1045.1 1049.9,1044.1 1050.3,1042.3 1050.6,1040.1 1051.0,1038.5 1051.3,1036.8 1051.7,1035.0 1052.0,1034.0 1052.8,1034.9 1053.6,1036.5 1054.4,1038.7 1055.1,1039.2 1055.9,1040.6 1056.7,1041.9 1057.5,1044.2 1058.3,1045.1 1059.1,1046.5 1059.9,1048.3 1060.6,1050.0 1061.4,1051.8 1062.2,1052.0 1063.0,1053.8 1064.0,1054.8 1065.0,1056.8 1066.0,1058.7 1067.0,1059.8 1068.0,1061.4 1069.0,1062.7 1069.6,1065.2 1070.2,1066.4 1070.8,1068.0 1071.4,1069.2 1072.1,1071.1 1072.7,1072.2 1073.3,1072.9 1073.9,1074.5 1074.5,1077.1 1075.1,1078.1 1075.7,1079.8 1076.3,1081.1 1076.9,1083.1 1077.6,1083.6 1078.2,1085.0 1078.8,1086.6 1079.4,1088.8 1080.0,1090.1 1080.3,1091.6 1080.7,1092.7 1081.0,1094.6 1081.4,1096.0 1081.7,1097.3 1082.1,1100.0 1082.4,1101.4 1082.8,1102.9 1083.1,1103.9 1083.5,1106.1 1083.8,1107.7 1084.2,1108.4 1084.5,1111.0 1084.9,1112.3 1085.2,1112.9 1085.6,1114.5 1085.9,1116.0 1086.3,1118.4 1086.6,1119.3 1087.0,1120.8 1087.3,1122.2 1087.7,1124.3 1088.0,1125.7 1088.3,1127.7 1088.6,1128.8 1088.9,1131.1 1089.2,1132.6 1089.4,1133.9 1089.7,1136.3 1090.0,1137.4 1090.3,1138.9 1090.6,1140.1 1090.9,1141.8 1091.2,1144.0 1091.5,1145.0 1091.8,1146.3 1092.1,1148.4 1092.3,1150.1 1092.6,1151.2 1092.9,1152.9 1093.2,1155.5 1093.5,1156.9 1093.8,1158.0 1094.1,1160.1 1094.4,1161.5 1094.7,1162.5 1094.9,1164.6 1095.2,1165.5 1095.5,1167.9 1095.8,1169.4 1096.1,1170.4 1096.4,1172.6 1096.7,1173.8 1097.0,1176.0 1097.3,1178.1 1097.6,1179.4 1097.8,1180.0 1098.1,1182.3 1098.4,1183.9 1098.7,1186.0 1099.0,1186.7 1099.3,1188.0 1099.6,1190.0 1099.9,1191.5 1100.2,1193.8 1100.4,1195.4 1100.7,1196.6 1101.0,1198.4 1101.3,1199.5 1101.6,1200.9 1101.9,1202.7 1102.2,1204.6 1102.5,1205.7 1102.8,1208.0 1103.0,1209.0 1103.3,1210.3 1103.6,1212.3 1103.9,1214.3 1104.2,1215.2 1104.5,1216.7 1104.8,1218.6 1105.1,1220.8 1105.4,1222.1 1105.6,1223.6 1105.9,1224.5 1106.2,1226.6 1106.5,1228.3 1106.8,1229.3 1107.1,1231.2 1107.4,1232.3 1107.7,1234.9 1108.0,1236.1 1108.2,1237.7 1108.5,1239.5 1108.8,1241.0 1109.1,1242.0 1109.4,1244.0 1109.7,1244.9 1110.0,1247.2 1110.3,1248.4 1110.6,1250.1 1110.8,1252.2 1111.1,1253.0 1111.4,1254.4 1111.7,1256.8 1112.0,1257.7 1112.5,1260.1 1113.1,1261.7 1113.7,1262.2 1114.2,1264.3 1114.8,1266.4 1115.3,1267.5 1115.8,1269.0 1116.4,1269.9 1117.0,1271.9 1117.5,1273.9 1118.0,1274.4 1118.6,1276.9 1119.2,1277.9 1119.7,1279.4 1120.2,1281.7 1120.8,1282.6 1121.3,1284.3 1121.9,1286.6 1122.5,1287.2 1123.0,1289.6 1123.6,1290.2 1124.3,1292.1 1124.9,1292.8 1125.5,1295.6 1126.2,1296.3 1126.8,1297.8 1127.4,1300.0 1128.1,1300.7 1128.7,1301.6 1129.3,1303.5 1129.9,1304.5 1130.6,1306.0 1131.2,1308.7 1131.8,1310.0 1132.5,1311.4 1133.1,1312.8 1133.7,1313.9 1134.4,1315.6 1135.0,1316.7 1135.9,1318.6 1136.8,1320.2 1137.8,1321.0 1138.7,1322.2 1139.6,1323.7 1140.5,1324.9 1141.5,1327.3 1142.4,1328.5 1143.3,1329.2 1144.2,1330.3 1145.2,1332.2 1146.1,1334.0 1147.0,1334.7 1148.2,1336.5 1149.4,1337.1 1150.6,1338.0 1151.8,1340.0 1153.0,1341.0 1154.2,1341.6 1155.4,1343.2 1156.6,1343.8 1157.8,1345.6 1159.0,1346.6 1160.2,1347.6 1161.4,1348.3 1162.6,1349.9 1163.8,1350.5 1165.0,1352.7 1166.4,1352.9 1167.8,1354.0 1169.2,1353.9 1170.6,1354.8 1172.1,1355.9 1173.5,1356.5 1174.9,1357.6 1176.3,1358.7 1177.7,1359.8 1179.1,1359.7 1180.5,1361.3 1181.9,1361.4 1183.4,1363.1 1184.8,1364.0 1186.2,1364.6 1187.6,1365.0 1189.0,1365.8 1190.5,1366.9 1192.1,1367.7 1193.6,1367.3 1195.1,1368.1 1196.7,1369.5 1198.2,1370.0 1199.7,1369.8 1201.3,1370.3 1202.8,1370.8 1204.3,1371.7 1205.9,1373.1 1207.4,1373.3 1208.9,1373.3 1210.5,1373.9 1212.0,1374.4 1213.7,1375.1 1215.3,1375.1 1217.0,1375.3 1218.6,1376.3 1220.2,1376.0 1221.9,1376.1 1223.5,1376.5 1225.2,1377.8 1226.8,1377.9 1228.5,1377.3 1230.2,1378.9 1231.8,1379.1 1233.5,1378.2 1235.1,1379.7 1236.8,1378.8 1238.4,1379.4 1240.0,1379.6 1241.7,1380.5 1243.3,1380.9 1245.0,1380.6 1246.6,1381.1 1248.3,1381.3 1249.9,1380.2 1251.6,1380.3 1253.2,1381.0 1254.9,1379.9 1256.5,1380.2 1258.1,1380.1 1259.8,1380.5 1261.4,1379.6 1263.1,1379.5 1264.7,1380.3 1266.4,1380.4 1268.0,1379.4 1269.6,1379.9 1271.2,1379.0 1272.8,1379.5 1274.5,1379.0 1276.1,1378.6 1277.7,1377.8 1279.3,1377.8 1280.9,1378.2 1282.5,1377.2 1284.2,1377.2 1285.8,1377.0 1287.4,1376.0 1289.0,1375.7 1290.6,1377.3 1292.2,1377.5 1293.8,1377.3 1295.4,1378.4 1297.0,1378.7 1298.6,1379.8 1300.2,1380.4 1301.8,1381.3 1303.4,1381.5 1305.0,1381.5 1306.4,1382.9 1307.8,1383.3 1309.2,1384.7 1310.6,1385.5 1312.0,1386.3 1313.4,1387.0 1314.8,1387.8 1316.2,1388.9 1317.6,1390.3 1319.0,1390.5 1320.4,1392.0 1321.8,1393.6 1323.2,1394.7 1324.6,1395.4 1326.0,1396.0 1327.4,1397.1 1328.8,1398.0 1330.2,1399.5 1331.6,1399.9 1333.0,1400.4 1334.6,1402.2 1336.2,1401.9 1337.8,1403.6 1339.3,1404.2 1340.9,1404.0 1342.5,1404.7 1344.1,1406.2 1345.7,1406.9 1347.2,1407.0 1348.8,1407.1 1350.4,1408.3 1352.0,1409.6 1353.6,1409.2 1355.2,1410.0 1356.8,1410.8 1358.4,1410.7 1360.0,1410.8 1361.6,1411.5 1363.2,1411.5 1364.8,1412.7 1366.4,1412.2 1368.0,1413.4 1369.6,1413.1 1371.3,1412.8 1372.9,1413.8 1374.5,1413.9 1376.1,1412.9 1377.8,1413.2 1379.4,1414.0 1381.0,1413.0 1382.7,1414.0 1384.3,1413.4 1385.9,1413.7 1387.5,1413.6 1389.2,1413.3 1390.8,1414.0 1392.4,1414.6 1394.0,1413.7 1395.7,1414.5 1397.3,1413.7 1398.9,1414.9 1400.6,1413.7 1402.2,1414.1 1403.8,1414.2 1405.4,1414.8 1407.1,1414.7 1408.7,1415.0 1410.3,1414.9 1412.0,1415.4 1413.6,1414.5 1415.2,1414.6 1416.8,1415.2 1418.5,1415.6 1420.1,1415.1 1421.7,1415.9 1423.3,1415.0 1425.0,1416.0 1426.6,1415.5 1428.2,1415.9 1429.9,1416.3 1431.5,1416.3 1433.1,1416.2 1434.7,1416.1 1436.4,1415.7 1438.0,1416.0" fill="none" stroke="#1d5bb4" stroke-width="3.0" stroke-linejoin="round" stroke-linecap="round"/>
<text x="919" y="1333.5" font-size="31" text-anchor="start" font-weight="normal" fill="#111" textLength="16.5" lengthAdjust="spacingAndGlyphs" stroke="#111" stroke-width="0.55">I.</text>
<text x="1045" y="1334.5" font-size="31" text-anchor="start" font-weight="normal" fill="#111" textLength="32.5" lengthAdjust="spacingAndGlyphs" stroke="#111" stroke-width="0.55">III.</text>
<text x="1288" y="1333.5" font-size="31" text-anchor="start" font-weight="normal" fill="#111" textLength="32.5" lengthAdjust="spacingAndGlyphs" stroke="#111" stroke-width="0.55">IV.</text>
</svg>
</body></html>
